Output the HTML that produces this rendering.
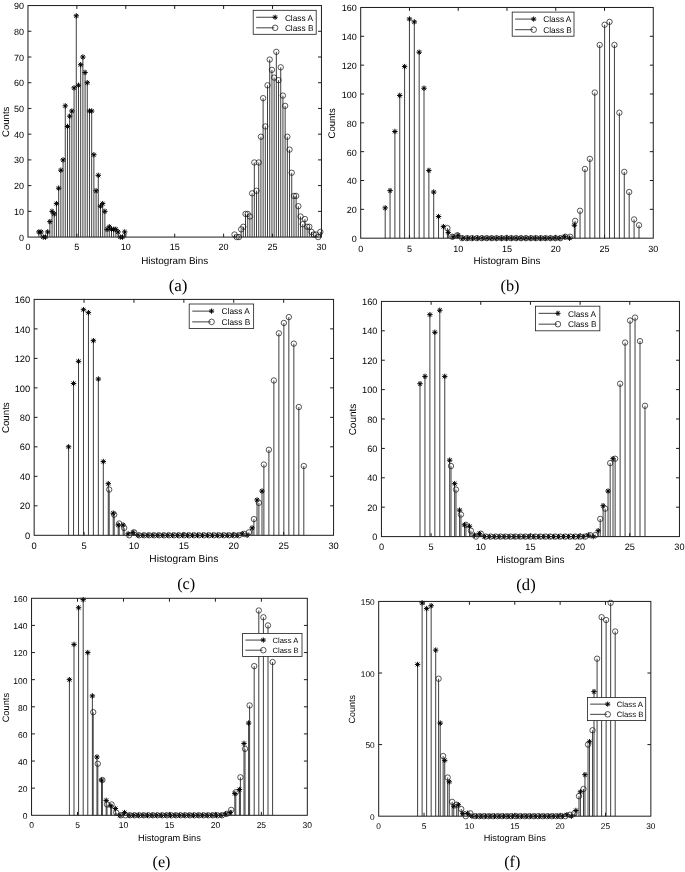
<!DOCTYPE html>
<html><head><meta charset="utf-8"><title>Histogram stem plots</title>
<style>html,body{margin:0;padding:0;background:#fff}svg{display:block}</style>
</head><body>
<svg width="685" height="872" viewBox="0 0 685 872" font-family="'Liberation Sans', Arial, sans-serif" fill="#000" text-rendering="geometricPrecision">
<style>text{stroke:none}</style>
<rect x="0" y="0" width="685" height="872" fill="#fff"/>
<g id="plot-a">
<path d="M38.85 237.07V231.93M41.05 237.07V231.93M47.66 237.07V231.93M49.86 237.07V221.64M52.06 237.07V211.35M54.26 237.07V213.92M56.46 237.07V203.63M58.66 237.07V188.19M60.86 237.07V170.19M63.07 237.07V159.90M65.27 237.07V105.88M67.47 237.07V126.45M69.67 237.07V116.17M71.87 237.07V111.02M74.07 237.07V87.87M76.27 237.07V15.84M78.47 237.07V85.30M80.67 237.07V64.72M82.88 237.07V57.00M85.08 237.07V72.43M87.28 237.07V82.72M89.48 237.07V111.02M91.68 237.07V111.02M93.88 237.07V154.75M96.08 237.07V190.77M98.28 237.07V175.33M100.48 237.07V206.20M102.69 237.07V203.63M104.89 237.07V211.35M107.09 237.07V229.35M109.29 237.07V226.78M111.49 237.07V229.35M113.69 237.07V229.35M115.89 237.07V229.35M118.09 237.07V231.93M124.70 237.07V231.93" stroke="#2e2e2e" stroke-width="0.92" fill="none"/>
<path d="M234.51 237.07V234.50M241.11 237.07V229.35M243.31 237.07V226.78M245.51 237.07V213.92M247.71 237.07V213.92M249.91 237.07V216.49M252.12 237.07V193.34M254.32 237.07V162.47M256.52 237.07V190.77M258.72 237.07V162.47M260.92 237.07V136.74M263.12 237.07V98.16M265.32 237.07V126.45M267.52 237.07V85.30M269.72 237.07V59.57M271.93 237.07V69.86M274.13 237.07V77.58M276.33 237.07V51.85M278.53 237.07V80.15M280.73 237.07V67.29M282.93 237.07V95.59M285.13 237.07V105.88M287.33 237.07V136.74M289.53 237.07V149.61M291.74 237.07V172.76M293.94 237.07V195.91M296.14 237.07V195.91M298.34 237.07V206.20M300.54 237.07V216.49M302.74 237.07V224.21M304.94 237.07V219.06M307.14 237.07V226.78M309.34 237.07V226.78M311.55 237.07V231.93M313.75 237.07V234.50M315.95 237.07V234.50M320.35 237.07V231.93" stroke="#2e2e2e" stroke-width="0.92" fill="none"/>
<path d="M36.15 231.93H41.55M38.85 229.23V234.63M36.94 230.02L40.76 233.83M36.94 233.83L40.76 230.02" stroke="#000" stroke-width="1.0" fill="none"/>
<path d="M38.35 231.93H43.75M41.05 229.23V234.63M39.15 230.02L42.96 233.83M39.15 233.83L42.96 230.02" stroke="#000" stroke-width="1.0" fill="none"/>
<path d="M40.56 237.07H45.96M43.26 234.37V239.77M41.35 235.16L45.16 238.98M41.35 238.98L45.16 235.16" stroke="#000" stroke-width="1.0" fill="none"/>
<path d="M42.76 237.07H48.16M45.46 234.37V239.77M43.55 235.16L47.37 238.98M43.55 238.98L47.37 235.16" stroke="#000" stroke-width="1.0" fill="none"/>
<path d="M44.96 231.93H50.36M47.66 229.23V234.63M45.75 230.02L49.57 233.83M45.75 233.83L49.57 230.02" stroke="#000" stroke-width="1.0" fill="none"/>
<path d="M47.16 221.64H52.56M49.86 218.94V224.34M47.95 219.73L51.77 223.54M47.95 223.54L51.77 219.73" stroke="#000" stroke-width="1.0" fill="none"/>
<path d="M49.36 211.35H54.76M52.06 208.65V214.05M50.15 209.44L53.97 213.25M50.15 213.25L53.97 209.44" stroke="#000" stroke-width="1.0" fill="none"/>
<path d="M51.56 213.92H56.96M54.26 211.22V216.62M52.35 212.01L56.17 215.83M52.35 215.83L56.17 212.01" stroke="#000" stroke-width="1.0" fill="none"/>
<path d="M53.76 203.63H59.16M56.46 200.93V206.33M54.55 201.72L58.37 205.54M54.55 205.54L58.37 201.72" stroke="#000" stroke-width="1.0" fill="none"/>
<path d="M55.96 188.19H61.36M58.66 185.49V190.89M56.75 186.28L60.57 190.10M56.75 190.10L60.57 186.28" stroke="#000" stroke-width="1.0" fill="none"/>
<path d="M58.16 170.19H63.56M60.86 167.49V172.89M58.96 168.28L62.77 172.10M58.96 172.10L62.77 168.28" stroke="#000" stroke-width="1.0" fill="none"/>
<path d="M60.37 159.90H65.77M63.07 157.20V162.60M61.16 157.99L64.97 161.81M61.16 161.81L64.97 157.99" stroke="#000" stroke-width="1.0" fill="none"/>
<path d="M62.57 105.88H67.97M65.27 103.18V108.58M63.36 103.97L67.18 107.78M63.36 107.78L67.18 103.97" stroke="#000" stroke-width="1.0" fill="none"/>
<path d="M64.77 126.45H70.17M67.47 123.75V129.15M65.56 124.55L69.38 128.36M65.56 128.36L69.38 124.55" stroke="#000" stroke-width="1.0" fill="none"/>
<path d="M66.97 116.17H72.37M69.67 113.47V118.87M67.76 114.26L71.58 118.07M67.76 118.07L71.58 114.26" stroke="#000" stroke-width="1.0" fill="none"/>
<path d="M69.17 111.02H74.57M71.87 108.32V113.72M69.96 109.11L73.78 112.93M69.96 112.93L73.78 109.11" stroke="#000" stroke-width="1.0" fill="none"/>
<path d="M71.37 87.87H76.77M74.07 85.17V90.57M72.16 85.96L75.98 89.78M72.16 89.78L75.98 85.96" stroke="#000" stroke-width="1.0" fill="none"/>
<path d="M73.57 15.84H78.97M76.27 13.14V18.54M74.36 13.93L78.18 17.75M74.36 17.75L78.18 13.93" stroke="#000" stroke-width="1.0" fill="none"/>
<path d="M75.77 85.30H81.17M78.47 82.60V88.00M76.56 83.39L80.38 87.20M76.56 87.20L80.38 83.39" stroke="#000" stroke-width="1.0" fill="none"/>
<path d="M77.97 64.72H83.37M80.67 62.02V67.42M78.76 62.81L82.58 66.63M78.76 66.63L82.58 62.81" stroke="#000" stroke-width="1.0" fill="none"/>
<path d="M80.18 57.00H85.58M82.88 54.30V59.70M80.97 55.09L84.78 58.91M80.97 58.91L84.78 55.09" stroke="#000" stroke-width="1.0" fill="none"/>
<path d="M82.38 72.43H87.78M85.08 69.73V75.13M83.17 70.52L86.99 74.34M83.17 74.34L86.99 70.52" stroke="#000" stroke-width="1.0" fill="none"/>
<path d="M84.58 82.72H89.98M87.28 80.02V85.42M85.37 80.81L89.19 84.63M85.37 84.63L89.19 80.81" stroke="#000" stroke-width="1.0" fill="none"/>
<path d="M86.78 111.02H92.18M89.48 108.32V113.72M87.57 109.11L91.39 112.93M87.57 112.93L91.39 109.11" stroke="#000" stroke-width="1.0" fill="none"/>
<path d="M88.98 111.02H94.38M91.68 108.32V113.72M89.77 109.11L93.59 112.93M89.77 112.93L93.59 109.11" stroke="#000" stroke-width="1.0" fill="none"/>
<path d="M91.18 154.75H96.58M93.88 152.05V157.45M91.97 152.84L95.79 156.66M91.97 156.66L95.79 152.84" stroke="#000" stroke-width="1.0" fill="none"/>
<path d="M93.38 190.77H98.78M96.08 188.07V193.47M94.17 188.86L97.99 192.68M94.17 192.68L97.99 188.86" stroke="#000" stroke-width="1.0" fill="none"/>
<path d="M95.58 175.33H100.98M98.28 172.63V178.03M96.37 173.42L100.19 177.24M96.37 177.24L100.19 173.42" stroke="#000" stroke-width="1.0" fill="none"/>
<path d="M97.78 206.20H103.18M100.48 203.50V208.90M98.57 204.29L102.39 208.11M98.57 208.11L102.39 204.29" stroke="#000" stroke-width="1.0" fill="none"/>
<path d="M99.99 203.63H105.39M102.69 200.93V206.33M100.78 201.72L104.59 205.54M100.78 205.54L104.59 201.72" stroke="#000" stroke-width="1.0" fill="none"/>
<path d="M102.19 211.35H107.59M104.89 208.65V214.05M102.98 209.44L106.80 213.25M102.98 213.25L106.80 209.44" stroke="#000" stroke-width="1.0" fill="none"/>
<path d="M104.39 229.35H109.79M107.09 226.65V232.05M105.18 227.44L109.00 231.26M105.18 231.26L109.00 227.44" stroke="#000" stroke-width="1.0" fill="none"/>
<path d="M106.59 226.78H111.99M109.29 224.08V229.48M107.38 224.87L111.20 228.69M107.38 228.69L111.20 224.87" stroke="#000" stroke-width="1.0" fill="none"/>
<path d="M108.79 229.35H114.19M111.49 226.65V232.05M109.58 227.44L113.40 231.26M109.58 231.26L113.40 227.44" stroke="#000" stroke-width="1.0" fill="none"/>
<path d="M110.99 229.35H116.39M113.69 226.65V232.05M111.78 227.44L115.60 231.26M111.78 231.26L115.60 227.44" stroke="#000" stroke-width="1.0" fill="none"/>
<path d="M113.19 229.35H118.59M115.89 226.65V232.05M113.98 227.44L117.80 231.26M113.98 231.26L117.80 227.44" stroke="#000" stroke-width="1.0" fill="none"/>
<path d="M115.39 231.93H120.79M118.09 229.23V234.63M116.18 230.02L120.00 233.83M116.18 233.83L120.00 230.02" stroke="#000" stroke-width="1.0" fill="none"/>
<path d="M117.59 237.07H122.99M120.29 234.37V239.77M118.38 235.16L122.20 238.98M118.38 238.98L122.20 235.16" stroke="#000" stroke-width="1.0" fill="none"/>
<path d="M119.80 237.07H125.20M122.50 234.37V239.77M120.59 235.16L124.40 238.98M120.59 238.98L124.40 235.16" stroke="#000" stroke-width="1.0" fill="none"/>
<path d="M122.00 231.93H127.40M124.70 229.23V234.63M122.79 230.02L126.61 233.83M122.79 233.83L126.61 230.02" stroke="#000" stroke-width="1.0" fill="none"/>
<circle cx="234.51" cy="234.50" r="2.7" stroke="#111" stroke-width="0.7" fill="none"/>
<circle cx="236.71" cy="237.07" r="2.7" stroke="#111" stroke-width="0.7" fill="none"/>
<circle cx="238.91" cy="237.07" r="2.7" stroke="#111" stroke-width="0.7" fill="none"/>
<circle cx="241.11" cy="229.35" r="2.7" stroke="#111" stroke-width="0.7" fill="none"/>
<circle cx="243.31" cy="226.78" r="2.7" stroke="#111" stroke-width="0.7" fill="none"/>
<circle cx="245.51" cy="213.92" r="2.7" stroke="#111" stroke-width="0.7" fill="none"/>
<circle cx="247.71" cy="213.92" r="2.7" stroke="#111" stroke-width="0.7" fill="none"/>
<circle cx="249.91" cy="216.49" r="2.7" stroke="#111" stroke-width="0.7" fill="none"/>
<circle cx="252.12" cy="193.34" r="2.7" stroke="#111" stroke-width="0.7" fill="none"/>
<circle cx="254.32" cy="162.47" r="2.7" stroke="#111" stroke-width="0.7" fill="none"/>
<circle cx="256.52" cy="190.77" r="2.7" stroke="#111" stroke-width="0.7" fill="none"/>
<circle cx="258.72" cy="162.47" r="2.7" stroke="#111" stroke-width="0.7" fill="none"/>
<circle cx="260.92" cy="136.74" r="2.7" stroke="#111" stroke-width="0.7" fill="none"/>
<circle cx="263.12" cy="98.16" r="2.7" stroke="#111" stroke-width="0.7" fill="none"/>
<circle cx="265.32" cy="126.45" r="2.7" stroke="#111" stroke-width="0.7" fill="none"/>
<circle cx="267.52" cy="85.30" r="2.7" stroke="#111" stroke-width="0.7" fill="none"/>
<circle cx="269.72" cy="59.57" r="2.7" stroke="#111" stroke-width="0.7" fill="none"/>
<circle cx="271.93" cy="69.86" r="2.7" stroke="#111" stroke-width="0.7" fill="none"/>
<circle cx="274.13" cy="77.58" r="2.7" stroke="#111" stroke-width="0.7" fill="none"/>
<circle cx="276.33" cy="51.85" r="2.7" stroke="#111" stroke-width="0.7" fill="none"/>
<circle cx="278.53" cy="80.15" r="2.7" stroke="#111" stroke-width="0.7" fill="none"/>
<circle cx="280.73" cy="67.29" r="2.7" stroke="#111" stroke-width="0.7" fill="none"/>
<circle cx="282.93" cy="95.59" r="2.7" stroke="#111" stroke-width="0.7" fill="none"/>
<circle cx="285.13" cy="105.88" r="2.7" stroke="#111" stroke-width="0.7" fill="none"/>
<circle cx="287.33" cy="136.74" r="2.7" stroke="#111" stroke-width="0.7" fill="none"/>
<circle cx="289.53" cy="149.61" r="2.7" stroke="#111" stroke-width="0.7" fill="none"/>
<circle cx="291.74" cy="172.76" r="2.7" stroke="#111" stroke-width="0.7" fill="none"/>
<circle cx="293.94" cy="195.91" r="2.7" stroke="#111" stroke-width="0.7" fill="none"/>
<circle cx="296.14" cy="195.91" r="2.7" stroke="#111" stroke-width="0.7" fill="none"/>
<circle cx="298.34" cy="206.20" r="2.7" stroke="#111" stroke-width="0.7" fill="none"/>
<circle cx="300.54" cy="216.49" r="2.7" stroke="#111" stroke-width="0.7" fill="none"/>
<circle cx="302.74" cy="224.21" r="2.7" stroke="#111" stroke-width="0.7" fill="none"/>
<circle cx="304.94" cy="219.06" r="2.7" stroke="#111" stroke-width="0.7" fill="none"/>
<circle cx="307.14" cy="226.78" r="2.7" stroke="#111" stroke-width="0.7" fill="none"/>
<circle cx="309.34" cy="226.78" r="2.7" stroke="#111" stroke-width="0.7" fill="none"/>
<circle cx="311.55" cy="231.93" r="2.7" stroke="#111" stroke-width="0.7" fill="none"/>
<circle cx="313.75" cy="234.50" r="2.7" stroke="#111" stroke-width="0.7" fill="none"/>
<circle cx="315.95" cy="234.50" r="2.7" stroke="#111" stroke-width="0.7" fill="none"/>
<circle cx="318.15" cy="237.07" r="2.7" stroke="#111" stroke-width="0.7" fill="none"/>
<circle cx="320.35" cy="231.93" r="2.7" stroke="#111" stroke-width="0.7" fill="none"/>
<rect x="27.97" y="5.55" width="293.48" height="231.52" fill="none" stroke="#1c1c1c" stroke-width="1"/>
<path d="M76.88 237.07v-3.4M76.88 5.55v3.4M125.80 237.07v-3.4M125.80 5.55v3.4M174.71 237.07v-3.4M174.71 5.55v3.4M223.62 237.07v-3.4M223.62 5.55v3.4M272.54 237.07v-3.4M272.54 5.55v3.4M27.97 211.35h3.4M321.45 211.35h-3.4M27.97 185.62h3.4M321.45 185.62h-3.4M27.97 159.90h3.4M321.45 159.90h-3.4M27.97 134.17h3.4M321.45 134.17h-3.4M27.97 108.45h3.4M321.45 108.45h-3.4M27.97 82.72h3.4M321.45 82.72h-3.4M27.97 57.00h3.4M321.45 57.00h-3.4M27.97 31.27h3.4M321.45 31.27h-3.4" stroke="#1c1c1c" stroke-width="1" fill="none"/>
<g font-size="9.0" text-anchor="middle">
<text x="27.97" y="249.97">0</text>
<text x="76.88" y="249.97">5</text>
<text x="125.80" y="249.97">10</text>
<text x="174.71" y="249.97">15</text>
<text x="223.62" y="249.97">20</text>
<text x="272.54" y="249.97">25</text>
<text x="321.45" y="249.97">30</text>
</g>
<g font-size="9.0" text-anchor="end">
<text x="23.97" y="240.61">0</text>
<text x="23.97" y="214.89">10</text>
<text x="23.97" y="189.16">20</text>
<text x="23.97" y="163.44">30</text>
<text x="23.97" y="137.71">40</text>
<text x="23.97" y="111.99">50</text>
<text x="23.97" y="86.26">60</text>
<text x="23.97" y="60.54">70</text>
<text x="23.97" y="34.81">80</text>
<text x="23.97" y="9.09">90</text>
</g>
<text x="174.71" y="263.7" font-size="9.9" text-anchor="middle">Histogram Bins</text>
<text transform="translate(8.80 121.81) rotate(-90)" font-size="9.57" text-anchor="middle">Counts</text>
<text x="178.1" y="290.5" class="cap" font-size="17" text-anchor="middle" font-family="'Liberation Serif', 'Times New Roman', serif">(a)</text>
<rect x="253.20" y="10.30" width="63.00" height="24.00" fill="#fff" stroke="#1c1c1c" stroke-width="0.8"/>
<path d="M256.16 17.26H274.31M256.16 27.82H274.31" stroke="#2e2e2e" stroke-width="0.92"/>
<path d="M272.50 17.26H277.71M275.11 14.66V19.86M273.27 15.42L276.94 19.10M273.27 19.10L276.94 15.42" stroke="#000" stroke-width="1.0" fill="none"/>
<circle cx="275.11" cy="27.82" r="2.8" stroke="#111" stroke-width="0.7" fill="none"/>
<text x="284.89" y="20.55" font-size="8.3">Class A</text>
<text x="284.89" y="31.11" font-size="8.3">Class B</text>
</g>
<g id="plot-b">
<path d="M385.20 238.18V207.90M390.05 238.18V190.60M394.90 238.18V131.48M399.75 238.18V95.43M404.60 238.18V66.59M409.45 238.18V19.01M414.31 238.18V21.89M419.16 238.18V52.17M424.01 238.18V88.22M428.86 238.18V170.41M433.71 238.18V192.04M438.56 238.18V216.55M443.41 238.18V226.64M448.26 238.18V232.41M453.11 238.18V236.74M457.96 238.18V235.30M564.69 238.18V236.74M574.39 238.18V225.20" stroke="#2e2e2e" stroke-width="0.92" fill="none"/>
<path d="M447.40 238.18V228.09M452.31 238.18V236.74M457.23 238.18V235.30M565.31 238.18V236.74M570.23 238.18V236.74M575.14 238.18V220.88M580.05 238.18V210.78M584.96 238.18V168.97M589.88 238.18V158.87M594.79 238.18V92.54M599.70 238.18V44.96M604.62 238.18V24.77M609.53 238.18V21.89M614.44 238.18V44.96M619.36 238.18V112.73M624.27 238.18V171.85M629.18 238.18V192.04M634.09 238.18V219.43M639.01 238.18V225.20" stroke="#2e2e2e" stroke-width="0.92" fill="none"/>
<path d="M382.50 207.90H387.90M385.20 205.20V210.60M383.29 205.99L387.11 209.81M383.29 209.81L387.11 205.99" stroke="#000" stroke-width="1.0" fill="none"/>
<path d="M387.35 190.60H392.75M390.05 187.90V193.30M388.14 188.69L391.96 192.51M388.14 192.51L391.96 188.69" stroke="#000" stroke-width="1.0" fill="none"/>
<path d="M392.20 131.48H397.60M394.90 128.78V134.18M392.99 129.57L396.81 133.39M392.99 133.39L396.81 129.57" stroke="#000" stroke-width="1.0" fill="none"/>
<path d="M397.05 95.43H402.45M399.75 92.73V98.13M397.84 93.52L401.66 97.34M397.84 97.34L401.66 93.52" stroke="#000" stroke-width="1.0" fill="none"/>
<path d="M401.90 66.59H407.30M404.60 63.89V69.29M402.69 64.68L406.51 68.50M402.69 68.50L406.51 64.68" stroke="#000" stroke-width="1.0" fill="none"/>
<path d="M406.75 19.01H412.15M409.45 16.31V21.71M407.55 17.10L411.36 20.91M407.55 20.91L411.36 17.10" stroke="#000" stroke-width="1.0" fill="none"/>
<path d="M411.61 21.89H417.01M414.31 19.19V24.59M412.40 19.98L416.22 23.80M412.40 23.80L416.22 19.98" stroke="#000" stroke-width="1.0" fill="none"/>
<path d="M416.46 52.17H421.86M419.16 49.47V54.87M417.25 50.26L421.07 54.08M417.25 54.08L421.07 50.26" stroke="#000" stroke-width="1.0" fill="none"/>
<path d="M421.31 88.22H426.71M424.01 85.52V90.92M422.10 86.31L425.92 90.13M422.10 90.13L425.92 86.31" stroke="#000" stroke-width="1.0" fill="none"/>
<path d="M426.16 170.41H431.56M428.86 167.71V173.11M426.95 168.50L430.77 172.32M426.95 172.32L430.77 168.50" stroke="#000" stroke-width="1.0" fill="none"/>
<path d="M431.01 192.04H436.41M433.71 189.34V194.74M431.80 190.13L435.62 193.95M431.80 193.95L435.62 190.13" stroke="#000" stroke-width="1.0" fill="none"/>
<path d="M435.86 216.55H441.26M438.56 213.85V219.25M436.65 214.64L440.47 218.46M436.65 218.46L440.47 214.64" stroke="#000" stroke-width="1.0" fill="none"/>
<path d="M440.71 226.64H446.11M443.41 223.94V229.34M441.50 224.74L445.32 228.55M441.50 228.55L445.32 224.74" stroke="#000" stroke-width="1.0" fill="none"/>
<path d="M445.56 232.41H450.96M448.26 229.71V235.11M446.35 230.50L450.17 234.32M446.35 234.32L450.17 230.50" stroke="#000" stroke-width="1.0" fill="none"/>
<path d="M450.41 236.74H455.81M453.11 234.04V239.44M451.20 234.83L455.02 238.65M451.20 238.65L455.02 234.83" stroke="#000" stroke-width="1.0" fill="none"/>
<path d="M455.26 235.30H460.66M457.96 232.60V238.00M456.06 233.39L459.87 237.21M456.06 237.21L459.87 233.39" stroke="#000" stroke-width="1.0" fill="none"/>
<path d="M460.12 238.18H465.52M462.82 235.48V240.88M460.91 236.27L464.73 240.09M460.91 240.09L464.73 236.27" stroke="#000" stroke-width="1.0" fill="none"/>
<path d="M464.97 238.18H470.37M467.67 235.48V240.88M465.76 236.27L469.58 240.09M465.76 240.09L469.58 236.27" stroke="#000" stroke-width="1.0" fill="none"/>
<path d="M469.82 238.18H475.22M472.52 235.48V240.88M470.61 236.27L474.43 240.09M470.61 240.09L474.43 236.27" stroke="#000" stroke-width="1.0" fill="none"/>
<path d="M474.67 238.18H480.07M477.37 235.48V240.88M475.46 236.27L479.28 240.09M475.46 240.09L479.28 236.27" stroke="#000" stroke-width="1.0" fill="none"/>
<path d="M479.52 238.18H484.92M482.22 235.48V240.88M480.31 236.27L484.13 240.09M480.31 240.09L484.13 236.27" stroke="#000" stroke-width="1.0" fill="none"/>
<path d="M484.37 238.18H489.77M487.07 235.48V240.88M485.16 236.27L488.98 240.09M485.16 240.09L488.98 236.27" stroke="#000" stroke-width="1.0" fill="none"/>
<path d="M489.22 238.18H494.62M491.92 235.48V240.88M490.01 236.27L493.83 240.09M490.01 240.09L493.83 236.27" stroke="#000" stroke-width="1.0" fill="none"/>
<path d="M494.07 238.18H499.47M496.77 235.48V240.88M494.86 236.27L498.68 240.09M494.86 240.09L498.68 236.27" stroke="#000" stroke-width="1.0" fill="none"/>
<path d="M498.92 238.18H504.32M501.62 235.48V240.88M499.71 236.27L503.53 240.09M499.71 240.09L503.53 236.27" stroke="#000" stroke-width="1.0" fill="none"/>
<path d="M503.78 238.18H509.18M506.48 235.48V240.88M504.57 236.27L508.38 240.09M504.57 240.09L508.38 236.27" stroke="#000" stroke-width="1.0" fill="none"/>
<path d="M508.63 238.18H514.03M511.33 235.48V240.88M509.42 236.27L513.24 240.09M509.42 240.09L513.24 236.27" stroke="#000" stroke-width="1.0" fill="none"/>
<path d="M513.48 238.18H518.88M516.18 235.48V240.88M514.27 236.27L518.09 240.09M514.27 240.09L518.09 236.27" stroke="#000" stroke-width="1.0" fill="none"/>
<path d="M518.33 238.18H523.73M521.03 235.48V240.88M519.12 236.27L522.94 240.09M519.12 240.09L522.94 236.27" stroke="#000" stroke-width="1.0" fill="none"/>
<path d="M523.18 238.18H528.58M525.88 235.48V240.88M523.97 236.27L527.79 240.09M523.97 240.09L527.79 236.27" stroke="#000" stroke-width="1.0" fill="none"/>
<path d="M528.03 238.18H533.43M530.73 235.48V240.88M528.82 236.27L532.64 240.09M528.82 240.09L532.64 236.27" stroke="#000" stroke-width="1.0" fill="none"/>
<path d="M532.88 238.18H538.28M535.58 235.48V240.88M533.67 236.27L537.49 240.09M533.67 240.09L537.49 236.27" stroke="#000" stroke-width="1.0" fill="none"/>
<path d="M537.73 238.18H543.13M540.43 235.48V240.88M538.52 236.27L542.34 240.09M538.52 240.09L542.34 236.27" stroke="#000" stroke-width="1.0" fill="none"/>
<path d="M542.58 238.18H547.98M545.28 235.48V240.88M543.37 236.27L547.19 240.09M543.37 240.09L547.19 236.27" stroke="#000" stroke-width="1.0" fill="none"/>
<path d="M547.43 238.18H552.83M550.13 235.48V240.88M548.22 236.27L552.04 240.09M548.22 240.09L552.04 236.27" stroke="#000" stroke-width="1.0" fill="none"/>
<path d="M552.28 238.18H557.69M554.99 235.48V240.88M553.08 236.27L556.89 240.09M553.08 240.09L556.89 236.27" stroke="#000" stroke-width="1.0" fill="none"/>
<path d="M557.14 238.18H562.54M559.84 235.48V240.88M557.93 236.27L561.75 240.09M557.93 240.09L561.75 236.27" stroke="#000" stroke-width="1.0" fill="none"/>
<path d="M561.99 236.74H567.39M564.69 234.04V239.44M562.78 234.83L566.60 238.65M562.78 238.65L566.60 234.83" stroke="#000" stroke-width="1.0" fill="none"/>
<path d="M566.84 238.18H572.24M569.54 235.48V240.88M567.63 236.27L571.45 240.09M567.63 240.09L571.45 236.27" stroke="#000" stroke-width="1.0" fill="none"/>
<path d="M571.69 225.20H577.09M574.39 222.50V227.90M572.48 223.29L576.30 227.11M572.48 227.11L576.30 223.29" stroke="#000" stroke-width="1.0" fill="none"/>
<circle cx="447.40" cy="228.09" r="2.7" stroke="#111" stroke-width="0.7" fill="none"/>
<circle cx="452.31" cy="236.74" r="2.7" stroke="#111" stroke-width="0.7" fill="none"/>
<circle cx="457.23" cy="235.30" r="2.7" stroke="#111" stroke-width="0.7" fill="none"/>
<circle cx="462.14" cy="238.18" r="2.7" stroke="#111" stroke-width="0.7" fill="none"/>
<circle cx="467.05" cy="238.18" r="2.7" stroke="#111" stroke-width="0.7" fill="none"/>
<circle cx="471.96" cy="238.18" r="2.7" stroke="#111" stroke-width="0.7" fill="none"/>
<circle cx="476.88" cy="238.18" r="2.7" stroke="#111" stroke-width="0.7" fill="none"/>
<circle cx="481.79" cy="238.18" r="2.7" stroke="#111" stroke-width="0.7" fill="none"/>
<circle cx="486.70" cy="238.18" r="2.7" stroke="#111" stroke-width="0.7" fill="none"/>
<circle cx="491.62" cy="238.18" r="2.7" stroke="#111" stroke-width="0.7" fill="none"/>
<circle cx="496.53" cy="238.18" r="2.7" stroke="#111" stroke-width="0.7" fill="none"/>
<circle cx="501.44" cy="238.18" r="2.7" stroke="#111" stroke-width="0.7" fill="none"/>
<circle cx="506.36" cy="238.18" r="2.7" stroke="#111" stroke-width="0.7" fill="none"/>
<circle cx="511.27" cy="238.18" r="2.7" stroke="#111" stroke-width="0.7" fill="none"/>
<circle cx="516.18" cy="238.18" r="2.7" stroke="#111" stroke-width="0.7" fill="none"/>
<circle cx="521.10" cy="238.18" r="2.7" stroke="#111" stroke-width="0.7" fill="none"/>
<circle cx="526.01" cy="238.18" r="2.7" stroke="#111" stroke-width="0.7" fill="none"/>
<circle cx="530.92" cy="238.18" r="2.7" stroke="#111" stroke-width="0.7" fill="none"/>
<circle cx="535.83" cy="238.18" r="2.7" stroke="#111" stroke-width="0.7" fill="none"/>
<circle cx="540.75" cy="238.18" r="2.7" stroke="#111" stroke-width="0.7" fill="none"/>
<circle cx="545.66" cy="238.18" r="2.7" stroke="#111" stroke-width="0.7" fill="none"/>
<circle cx="550.57" cy="238.18" r="2.7" stroke="#111" stroke-width="0.7" fill="none"/>
<circle cx="555.49" cy="238.18" r="2.7" stroke="#111" stroke-width="0.7" fill="none"/>
<circle cx="560.40" cy="238.18" r="2.7" stroke="#111" stroke-width="0.7" fill="none"/>
<circle cx="565.31" cy="236.74" r="2.7" stroke="#111" stroke-width="0.7" fill="none"/>
<circle cx="570.23" cy="236.74" r="2.7" stroke="#111" stroke-width="0.7" fill="none"/>
<circle cx="575.14" cy="220.88" r="2.7" stroke="#111" stroke-width="0.7" fill="none"/>
<circle cx="580.05" cy="210.78" r="2.7" stroke="#111" stroke-width="0.7" fill="none"/>
<circle cx="584.96" cy="168.97" r="2.7" stroke="#111" stroke-width="0.7" fill="none"/>
<circle cx="589.88" cy="158.87" r="2.7" stroke="#111" stroke-width="0.7" fill="none"/>
<circle cx="594.79" cy="92.54" r="2.7" stroke="#111" stroke-width="0.7" fill="none"/>
<circle cx="599.70" cy="44.96" r="2.7" stroke="#111" stroke-width="0.7" fill="none"/>
<circle cx="604.62" cy="24.77" r="2.7" stroke="#111" stroke-width="0.7" fill="none"/>
<circle cx="609.53" cy="21.89" r="2.7" stroke="#111" stroke-width="0.7" fill="none"/>
<circle cx="614.44" cy="44.96" r="2.7" stroke="#111" stroke-width="0.7" fill="none"/>
<circle cx="619.36" cy="112.73" r="2.7" stroke="#111" stroke-width="0.7" fill="none"/>
<circle cx="624.27" cy="171.85" r="2.7" stroke="#111" stroke-width="0.7" fill="none"/>
<circle cx="629.18" cy="192.04" r="2.7" stroke="#111" stroke-width="0.7" fill="none"/>
<circle cx="634.09" cy="219.43" r="2.7" stroke="#111" stroke-width="0.7" fill="none"/>
<circle cx="639.01" cy="225.20" r="2.7" stroke="#111" stroke-width="0.7" fill="none"/>
<rect x="360.70" y="7.47" width="292.56" height="230.71" fill="none" stroke="#1c1c1c" stroke-width="1"/>
<path d="M409.46 238.18v-3.4M409.46 7.47v3.4M458.22 238.18v-3.4M458.22 7.47v3.4M506.98 238.18v-3.4M506.98 7.47v3.4M555.74 238.18v-3.4M555.74 7.47v3.4M604.50 238.18v-3.4M604.50 7.47v3.4M360.70 209.34h3.4M653.26 209.34h-3.4M360.70 180.50h3.4M653.26 180.50h-3.4M360.70 151.66h3.4M653.26 151.66h-3.4M360.70 122.83h3.4M653.26 122.83h-3.4M360.70 93.99h3.4M653.26 93.99h-3.4M360.70 65.15h3.4M653.26 65.15h-3.4M360.70 36.31h3.4M653.26 36.31h-3.4" stroke="#1c1c1c" stroke-width="1" fill="none"/>
<g font-size="9.0" text-anchor="middle">
<text x="360.70" y="251.58">0</text>
<text x="409.46" y="251.58">5</text>
<text x="458.22" y="251.58">10</text>
<text x="506.98" y="251.58">15</text>
<text x="555.74" y="251.58">20</text>
<text x="604.50" y="251.58">25</text>
<text x="653.26" y="251.58">30</text>
</g>
<g font-size="9.0" text-anchor="end">
<text x="356.70" y="242.12">0</text>
<text x="356.70" y="213.28">20</text>
<text x="356.70" y="184.44">40</text>
<text x="356.70" y="155.60">60</text>
<text x="356.70" y="126.77">80</text>
<text x="356.70" y="97.93">100</text>
<text x="356.70" y="69.09">120</text>
<text x="356.70" y="40.25">140</text>
<text x="356.70" y="11.41">160</text>
</g>
<text x="506.98" y="264.2" font-size="9.9" text-anchor="middle">Histogram Bins</text>
<text transform="translate(335.20 123.33) rotate(-90)" font-size="9.57" text-anchor="middle">Counts</text>
<text x="510" y="290.5" class="cap" font-size="16.3" text-anchor="middle" font-family="'Liberation Serif', 'Times New Roman', serif">(b)</text>
<rect x="512.20" y="12.10" width="61.80" height="24.10" fill="#fff" stroke="#1c1c1c" stroke-width="0.8"/>
<path d="M515.10 19.09H532.90M515.10 29.69H532.90" stroke="#2e2e2e" stroke-width="0.92"/>
<path d="M531.10 19.09H536.30M533.70 16.49V21.69M531.86 17.25L535.54 20.93M531.86 20.93L535.54 17.25" stroke="#000" stroke-width="1.0" fill="none"/>
<circle cx="533.70" cy="29.69" r="2.8" stroke="#111" stroke-width="0.7" fill="none"/>
<text x="543.29" y="22.38" font-size="8.3">Class A</text>
<text x="543.29" y="32.98" font-size="8.3">Class B</text>
</g>
<g id="plot-c">
<path d="M68.60 535.30V446.84M73.56 535.30V383.44M78.52 535.30V361.32M83.48 535.30V309.72M88.44 535.30V312.67M93.39 535.30V340.68M98.35 535.30V379.02M103.31 535.30V461.58M108.27 535.30V483.70M113.23 535.30V513.18M118.19 535.30V524.98M123.15 535.30V524.98M128.11 535.30V533.83M133.07 535.30V532.35M242.16 535.30V533.83M252.08 535.30V527.93M257.04 535.30V499.91M262.00 535.30V491.07" stroke="#2e2e2e" stroke-width="0.92" fill="none"/>
<path d="M109.20 535.30V489.59M114.19 535.30V514.66M119.18 535.30V523.50M124.17 535.30V527.93M134.15 535.30V532.35M243.93 535.30V533.83M248.92 535.30V532.35M253.91 535.30V519.08M258.90 535.30V502.86M263.89 535.30V464.53M268.88 535.30V449.79M273.87 535.30V380.49M278.86 535.30V333.31M283.85 535.30V322.99M288.84 535.30V317.09M293.83 535.30V343.63M298.82 535.30V407.03M303.81 535.30V466.00" stroke="#2e2e2e" stroke-width="0.92" fill="none"/>
<path d="M65.90 446.84H71.30M68.60 444.14V449.54M66.69 444.93L70.51 448.75M66.69 448.75L70.51 444.93" stroke="#000" stroke-width="1.0" fill="none"/>
<path d="M70.86 383.44H76.26M73.56 380.74V386.14M71.65 381.53L75.47 385.35M71.65 385.35L75.47 381.53" stroke="#000" stroke-width="1.0" fill="none"/>
<path d="M75.82 361.32H81.22M78.52 358.62V364.02M76.61 359.41L80.43 363.23M76.61 363.23L80.43 359.41" stroke="#000" stroke-width="1.0" fill="none"/>
<path d="M80.78 309.72H86.18M83.48 307.02V312.42M81.57 307.81L85.39 311.63M81.57 311.63L85.39 307.81" stroke="#000" stroke-width="1.0" fill="none"/>
<path d="M85.74 312.67H91.14M88.44 309.97V315.37M86.53 310.76L90.35 314.58M86.53 314.58L90.35 310.76" stroke="#000" stroke-width="1.0" fill="none"/>
<path d="M90.69 340.68H96.09M93.39 337.98V343.38M91.49 338.77L95.30 342.59M91.49 342.59L95.30 338.77" stroke="#000" stroke-width="1.0" fill="none"/>
<path d="M95.65 379.02H101.05M98.35 376.32V381.72M96.44 377.11L100.26 380.93M96.44 380.93L100.26 377.11" stroke="#000" stroke-width="1.0" fill="none"/>
<path d="M100.61 461.58H106.01M103.31 458.88V464.28M101.40 459.67L105.22 463.49M101.40 463.49L105.22 459.67" stroke="#000" stroke-width="1.0" fill="none"/>
<path d="M105.57 483.70H110.97M108.27 481.00V486.40M106.36 481.79L110.18 485.61M106.36 485.61L110.18 481.79" stroke="#000" stroke-width="1.0" fill="none"/>
<path d="M110.53 513.18H115.93M113.23 510.48V515.88M111.32 511.28L115.14 515.09M111.32 515.09L115.14 511.28" stroke="#000" stroke-width="1.0" fill="none"/>
<path d="M115.49 524.98H120.89M118.19 522.28V527.68M116.28 523.07L120.10 526.89M116.28 526.89L120.10 523.07" stroke="#000" stroke-width="1.0" fill="none"/>
<path d="M120.45 524.98H125.85M123.15 522.28V527.68M121.24 523.07L125.06 526.89M121.24 526.89L125.06 523.07" stroke="#000" stroke-width="1.0" fill="none"/>
<path d="M125.41 533.83H130.81M128.11 531.13V536.53M126.20 531.92L130.02 535.73M126.20 535.73L130.02 531.92" stroke="#000" stroke-width="1.0" fill="none"/>
<path d="M130.37 532.35H135.77M133.07 529.65V535.05M131.16 530.44L134.98 534.26M131.16 534.26L134.98 530.44" stroke="#000" stroke-width="1.0" fill="none"/>
<path d="M135.33 535.30H140.73M138.03 532.60V538.00M136.12 533.39L139.94 537.21M136.12 537.21L139.94 533.39" stroke="#000" stroke-width="1.0" fill="none"/>
<path d="M140.28 535.30H145.68M142.98 532.60V538.00M141.08 533.39L144.89 537.21M141.08 537.21L144.89 533.39" stroke="#000" stroke-width="1.0" fill="none"/>
<path d="M145.24 535.30H150.64M147.94 532.60V538.00M146.03 533.39L149.85 537.21M146.03 537.21L149.85 533.39" stroke="#000" stroke-width="1.0" fill="none"/>
<path d="M150.20 535.30H155.60M152.90 532.60V538.00M150.99 533.39L154.81 537.21M150.99 537.21L154.81 533.39" stroke="#000" stroke-width="1.0" fill="none"/>
<path d="M155.16 535.30H160.56M157.86 532.60V538.00M155.95 533.39L159.77 537.21M155.95 537.21L159.77 533.39" stroke="#000" stroke-width="1.0" fill="none"/>
<path d="M160.12 535.30H165.52M162.82 532.60V538.00M160.91 533.39L164.73 537.21M160.91 537.21L164.73 533.39" stroke="#000" stroke-width="1.0" fill="none"/>
<path d="M165.08 535.30H170.48M167.78 532.60V538.00M165.87 533.39L169.69 537.21M165.87 537.21L169.69 533.39" stroke="#000" stroke-width="1.0" fill="none"/>
<path d="M170.04 535.30H175.44M172.74 532.60V538.00M170.83 533.39L174.65 537.21M170.83 537.21L174.65 533.39" stroke="#000" stroke-width="1.0" fill="none"/>
<path d="M175.00 535.30H180.40M177.70 532.60V538.00M175.79 533.39L179.61 537.21M175.79 537.21L179.61 533.39" stroke="#000" stroke-width="1.0" fill="none"/>
<path d="M179.96 535.30H185.36M182.66 532.60V538.00M180.75 533.39L184.57 537.21M180.75 537.21L184.57 533.39" stroke="#000" stroke-width="1.0" fill="none"/>
<path d="M184.92 535.30H190.32M187.62 532.60V538.00M185.71 533.39L189.53 537.21M185.71 537.21L189.53 533.39" stroke="#000" stroke-width="1.0" fill="none"/>
<path d="M189.88 535.30H195.27M192.57 532.60V538.00M190.67 533.39L194.48 537.21M190.67 537.21L194.48 533.39" stroke="#000" stroke-width="1.0" fill="none"/>
<path d="M194.83 535.30H200.23M197.53 532.60V538.00M195.62 533.39L199.44 537.21M195.62 537.21L199.44 533.39" stroke="#000" stroke-width="1.0" fill="none"/>
<path d="M199.79 535.30H205.19M202.49 532.60V538.00M200.58 533.39L204.40 537.21M200.58 537.21L204.40 533.39" stroke="#000" stroke-width="1.0" fill="none"/>
<path d="M204.75 535.30H210.15M207.45 532.60V538.00M205.54 533.39L209.36 537.21M205.54 537.21L209.36 533.39" stroke="#000" stroke-width="1.0" fill="none"/>
<path d="M209.71 535.30H215.11M212.41 532.60V538.00M210.50 533.39L214.32 537.21M210.50 537.21L214.32 533.39" stroke="#000" stroke-width="1.0" fill="none"/>
<path d="M214.67 535.30H220.07M217.37 532.60V538.00M215.46 533.39L219.28 537.21M215.46 537.21L219.28 533.39" stroke="#000" stroke-width="1.0" fill="none"/>
<path d="M219.63 535.30H225.03M222.33 532.60V538.00M220.42 533.39L224.24 537.21M220.42 537.21L224.24 533.39" stroke="#000" stroke-width="1.0" fill="none"/>
<path d="M224.59 535.30H229.99M227.29 532.60V538.00M225.38 533.39L229.20 537.21M225.38 537.21L229.20 533.39" stroke="#000" stroke-width="1.0" fill="none"/>
<path d="M229.55 535.30H234.95M232.25 532.60V538.00M230.34 533.39L234.16 537.21M230.34 537.21L234.16 533.39" stroke="#000" stroke-width="1.0" fill="none"/>
<path d="M234.51 535.30H239.91M237.21 532.60V538.00M235.30 533.39L239.12 537.21M235.30 537.21L239.12 533.39" stroke="#000" stroke-width="1.0" fill="none"/>
<path d="M239.47 533.83H244.86M242.16 531.13V536.53M240.26 531.92L244.07 535.73M240.26 535.73L244.07 531.92" stroke="#000" stroke-width="1.0" fill="none"/>
<path d="M244.42 535.30H249.82M247.12 532.60V538.00M245.21 533.39L249.03 537.21M245.21 537.21L249.03 533.39" stroke="#000" stroke-width="1.0" fill="none"/>
<path d="M249.38 527.93H254.78M252.08 525.23V530.63M250.17 526.02L253.99 529.84M250.17 529.84L253.99 526.02" stroke="#000" stroke-width="1.0" fill="none"/>
<path d="M254.34 499.91H259.74M257.04 497.21V502.61M255.13 498.01L258.95 501.82M255.13 501.82L258.95 498.01" stroke="#000" stroke-width="1.0" fill="none"/>
<path d="M259.30 491.07H264.70M262.00 488.37V493.77M260.09 489.16L263.91 492.98M260.09 492.98L263.91 489.16" stroke="#000" stroke-width="1.0" fill="none"/>
<circle cx="109.20" cy="489.59" r="2.7" stroke="#111" stroke-width="0.7" fill="none"/>
<circle cx="114.19" cy="514.66" r="2.7" stroke="#111" stroke-width="0.7" fill="none"/>
<circle cx="119.18" cy="523.50" r="2.7" stroke="#111" stroke-width="0.7" fill="none"/>
<circle cx="124.17" cy="527.93" r="2.7" stroke="#111" stroke-width="0.7" fill="none"/>
<circle cx="129.16" cy="535.30" r="2.7" stroke="#111" stroke-width="0.7" fill="none"/>
<circle cx="134.15" cy="532.35" r="2.7" stroke="#111" stroke-width="0.7" fill="none"/>
<circle cx="139.14" cy="535.30" r="2.7" stroke="#111" stroke-width="0.7" fill="none"/>
<circle cx="144.13" cy="535.30" r="2.7" stroke="#111" stroke-width="0.7" fill="none"/>
<circle cx="149.12" cy="535.30" r="2.7" stroke="#111" stroke-width="0.7" fill="none"/>
<circle cx="154.11" cy="535.30" r="2.7" stroke="#111" stroke-width="0.7" fill="none"/>
<circle cx="159.10" cy="535.30" r="2.7" stroke="#111" stroke-width="0.7" fill="none"/>
<circle cx="164.09" cy="535.30" r="2.7" stroke="#111" stroke-width="0.7" fill="none"/>
<circle cx="169.08" cy="535.30" r="2.7" stroke="#111" stroke-width="0.7" fill="none"/>
<circle cx="174.07" cy="535.30" r="2.7" stroke="#111" stroke-width="0.7" fill="none"/>
<circle cx="179.06" cy="535.30" r="2.7" stroke="#111" stroke-width="0.7" fill="none"/>
<circle cx="184.05" cy="535.30" r="2.7" stroke="#111" stroke-width="0.7" fill="none"/>
<circle cx="189.04" cy="535.30" r="2.7" stroke="#111" stroke-width="0.7" fill="none"/>
<circle cx="194.03" cy="535.30" r="2.7" stroke="#111" stroke-width="0.7" fill="none"/>
<circle cx="199.02" cy="535.30" r="2.7" stroke="#111" stroke-width="0.7" fill="none"/>
<circle cx="204.01" cy="535.30" r="2.7" stroke="#111" stroke-width="0.7" fill="none"/>
<circle cx="209.00" cy="535.30" r="2.7" stroke="#111" stroke-width="0.7" fill="none"/>
<circle cx="213.99" cy="535.30" r="2.7" stroke="#111" stroke-width="0.7" fill="none"/>
<circle cx="218.98" cy="535.30" r="2.7" stroke="#111" stroke-width="0.7" fill="none"/>
<circle cx="223.97" cy="535.30" r="2.7" stroke="#111" stroke-width="0.7" fill="none"/>
<circle cx="228.96" cy="535.30" r="2.7" stroke="#111" stroke-width="0.7" fill="none"/>
<circle cx="233.95" cy="535.30" r="2.7" stroke="#111" stroke-width="0.7" fill="none"/>
<circle cx="238.94" cy="535.30" r="2.7" stroke="#111" stroke-width="0.7" fill="none"/>
<circle cx="243.93" cy="533.83" r="2.7" stroke="#111" stroke-width="0.7" fill="none"/>
<circle cx="248.92" cy="532.35" r="2.7" stroke="#111" stroke-width="0.7" fill="none"/>
<circle cx="253.91" cy="519.08" r="2.7" stroke="#111" stroke-width="0.7" fill="none"/>
<circle cx="258.90" cy="502.86" r="2.7" stroke="#111" stroke-width="0.7" fill="none"/>
<circle cx="263.89" cy="464.53" r="2.7" stroke="#111" stroke-width="0.7" fill="none"/>
<circle cx="268.88" cy="449.79" r="2.7" stroke="#111" stroke-width="0.7" fill="none"/>
<circle cx="273.87" cy="380.49" r="2.7" stroke="#111" stroke-width="0.7" fill="none"/>
<circle cx="278.86" cy="333.31" r="2.7" stroke="#111" stroke-width="0.7" fill="none"/>
<circle cx="283.85" cy="322.99" r="2.7" stroke="#111" stroke-width="0.7" fill="none"/>
<circle cx="288.84" cy="317.09" r="2.7" stroke="#111" stroke-width="0.7" fill="none"/>
<circle cx="293.83" cy="343.63" r="2.7" stroke="#111" stroke-width="0.7" fill="none"/>
<circle cx="298.82" cy="407.03" r="2.7" stroke="#111" stroke-width="0.7" fill="none"/>
<circle cx="303.81" cy="466.00" r="2.7" stroke="#111" stroke-width="0.7" fill="none"/>
<rect x="34.15" y="299.40" width="299.41" height="235.90" fill="none" stroke="#1c1c1c" stroke-width="1"/>
<path d="M84.05 535.30v-3.4M84.05 299.40v3.4M133.95 535.30v-3.4M133.95 299.40v3.4M183.86 535.30v-3.4M183.86 299.40v3.4M233.76 535.30v-3.4M233.76 299.40v3.4M283.66 535.30v-3.4M283.66 299.40v3.4M34.15 505.81h3.4M333.56 505.81h-3.4M34.15 476.32h3.4M333.56 476.32h-3.4M34.15 446.84h3.4M333.56 446.84h-3.4M34.15 417.35h3.4M333.56 417.35h-3.4M34.15 387.86h3.4M333.56 387.86h-3.4M34.15 358.38h3.4M333.56 358.38h-3.4M34.15 328.89h3.4M333.56 328.89h-3.4" stroke="#1c1c1c" stroke-width="1" fill="none"/>
<g font-size="9.3" text-anchor="middle">
<text x="34.15" y="548.60">0</text>
<text x="84.05" y="548.60">5</text>
<text x="133.95" y="548.60">10</text>
<text x="183.86" y="548.60">15</text>
<text x="233.76" y="548.60">20</text>
<text x="283.66" y="548.60">25</text>
<text x="333.56" y="548.60">30</text>
</g>
<g font-size="9.3" text-anchor="end">
<text x="30.15" y="538.95">0</text>
<text x="30.15" y="509.46">20</text>
<text x="30.15" y="479.97">40</text>
<text x="30.15" y="450.49">60</text>
<text x="30.15" y="421.00">80</text>
<text x="30.15" y="391.51">100</text>
<text x="30.15" y="362.02">120</text>
<text x="30.15" y="332.54">140</text>
<text x="30.15" y="303.05">160</text>
</g>
<text x="183.85" y="562" font-size="10.2" text-anchor="middle">Histogram Bins</text>
<text transform="translate(9.45 417.70) rotate(-90)" font-size="9.72" text-anchor="middle">Counts</text>
<text x="186.2" y="589.3" class="cap" font-size="16.3" text-anchor="middle" font-family="'Liberation Serif', 'Times New Roman', serif">(c)</text>
<rect x="189.20" y="304.00" width="64.45" height="24.50" fill="#fff" stroke="#1c1c1c" stroke-width="0.8"/>
<path d="M192.23 311.11H210.79M192.23 321.88H210.79" stroke="#2e2e2e" stroke-width="0.92"/>
<path d="M208.99 311.11H214.19M211.59 308.50V313.71M209.75 309.27L213.43 312.94M209.75 312.94L213.43 309.27" stroke="#000" stroke-width="1.0" fill="none"/>
<circle cx="211.59" cy="321.88" r="2.8" stroke="#111" stroke-width="0.7" fill="none"/>
<text x="221.62" y="314.39" font-size="8.3">Class A</text>
<text x="221.62" y="325.17" font-size="8.3">Class B</text>
</g>
<g id="plot-d">
<path d="M420.00 536.60V383.73M424.95 536.60V376.38M429.90 536.60V314.65M434.85 536.60V332.29M439.80 536.60V310.24M444.75 536.60V376.38M449.69 536.60V460.17M454.64 536.60V483.68M459.59 536.60V510.14M464.54 536.60V524.84M469.49 536.60V526.31M474.44 536.60V535.13M479.39 536.60V533.66M588.27 536.60V535.13M598.16 536.60V530.72M603.11 536.60V505.73M608.06 536.60V491.03M613.01 536.60V458.70" stroke="#2e2e2e" stroke-width="0.92" fill="none"/>
<path d="M451.00 536.60V466.05M455.97 536.60V489.56M460.95 536.60V514.55M465.92 536.60V524.84M470.90 536.60V530.72M480.84 536.60V533.66M590.27 536.60V535.13M595.25 536.60V535.13M600.22 536.60V518.96M605.19 536.60V508.67M610.17 536.60V463.11M615.14 536.60V458.70M620.12 536.60V383.73M625.09 536.60V342.58M630.06 536.60V320.53M635.04 536.60V317.59M640.01 536.60V341.11M644.99 536.60V405.78" stroke="#2e2e2e" stroke-width="0.92" fill="none"/>
<path d="M417.30 383.73H422.70M420.00 381.03V386.43M418.09 381.82L421.91 385.64M418.09 385.64L421.91 381.82" stroke="#000" stroke-width="1.0" fill="none"/>
<path d="M422.25 376.38H427.65M424.95 373.68V379.08M423.04 374.47L426.86 378.29M423.04 378.29L426.86 374.47" stroke="#000" stroke-width="1.0" fill="none"/>
<path d="M427.20 314.65H432.60M429.90 311.95V317.35M427.99 312.74L431.81 316.56M427.99 316.56L431.81 312.74" stroke="#000" stroke-width="1.0" fill="none"/>
<path d="M432.15 332.29H437.55M434.85 329.59V334.99M432.94 330.38L436.76 334.20M432.94 334.20L436.76 330.38" stroke="#000" stroke-width="1.0" fill="none"/>
<path d="M437.10 310.24H442.50M439.80 307.54V312.94M437.89 308.33L441.71 312.15M437.89 312.15L441.71 308.33" stroke="#000" stroke-width="1.0" fill="none"/>
<path d="M442.05 376.38H447.44M444.75 373.68V379.08M442.84 374.47L446.65 378.29M442.84 378.29L446.65 374.47" stroke="#000" stroke-width="1.0" fill="none"/>
<path d="M446.99 460.17H452.39M449.69 457.47V462.87M447.78 458.26L451.60 462.08M447.78 462.08L451.60 458.26" stroke="#000" stroke-width="1.0" fill="none"/>
<path d="M451.94 483.68H457.34M454.64 480.98V486.38M452.73 481.78L456.55 485.59M452.73 485.59L456.55 481.78" stroke="#000" stroke-width="1.0" fill="none"/>
<path d="M456.89 510.14H462.29M459.59 507.44V512.84M457.68 508.23L461.50 512.05M457.68 512.05L461.50 508.23" stroke="#000" stroke-width="1.0" fill="none"/>
<path d="M461.84 524.84H467.24M464.54 522.14V527.54M462.63 522.93L466.45 526.75M462.63 526.75L466.45 522.93" stroke="#000" stroke-width="1.0" fill="none"/>
<path d="M466.79 526.31H472.19M469.49 523.61V529.01M467.58 524.40L471.40 528.22M467.58 528.22L471.40 524.40" stroke="#000" stroke-width="1.0" fill="none"/>
<path d="M471.74 535.13H477.14M474.44 532.43V537.83M472.53 533.22L476.35 537.04M472.53 537.04L476.35 533.22" stroke="#000" stroke-width="1.0" fill="none"/>
<path d="M476.69 533.66H482.09M479.39 530.96V536.36M477.48 531.75L481.30 535.57M477.48 535.57L481.30 531.75" stroke="#000" stroke-width="1.0" fill="none"/>
<path d="M481.64 536.60H487.04M484.34 533.90V539.30M482.43 534.69L486.25 538.51M482.43 538.51L486.25 534.69" stroke="#000" stroke-width="1.0" fill="none"/>
<path d="M486.59 536.60H491.99M489.29 533.90V539.30M487.38 534.69L491.20 538.51M487.38 538.51L491.20 534.69" stroke="#000" stroke-width="1.0" fill="none"/>
<path d="M491.54 536.60H496.94M494.24 533.90V539.30M492.33 534.69L496.14 538.51M492.33 538.51L496.14 534.69" stroke="#000" stroke-width="1.0" fill="none"/>
<path d="M496.48 536.60H501.88M499.18 533.90V539.30M497.27 534.69L501.09 538.51M497.27 538.51L501.09 534.69" stroke="#000" stroke-width="1.0" fill="none"/>
<path d="M501.43 536.60H506.83M504.13 533.90V539.30M502.22 534.69L506.04 538.51M502.22 538.51L506.04 534.69" stroke="#000" stroke-width="1.0" fill="none"/>
<path d="M506.38 536.60H511.78M509.08 533.90V539.30M507.17 534.69L510.99 538.51M507.17 538.51L510.99 534.69" stroke="#000" stroke-width="1.0" fill="none"/>
<path d="M511.33 536.60H516.73M514.03 533.90V539.30M512.12 534.69L515.94 538.51M512.12 538.51L515.94 534.69" stroke="#000" stroke-width="1.0" fill="none"/>
<path d="M516.28 536.60H521.68M518.98 533.90V539.30M517.07 534.69L520.89 538.51M517.07 538.51L520.89 534.69" stroke="#000" stroke-width="1.0" fill="none"/>
<path d="M521.23 536.60H526.63M523.93 533.90V539.30M522.02 534.69L525.84 538.51M522.02 538.51L525.84 534.69" stroke="#000" stroke-width="1.0" fill="none"/>
<path d="M526.18 536.60H531.58M528.88 533.90V539.30M526.97 534.69L530.79 538.51M526.97 538.51L530.79 534.69" stroke="#000" stroke-width="1.0" fill="none"/>
<path d="M531.13 536.60H536.53M533.83 533.90V539.30M531.92 534.69L535.74 538.51M531.92 538.51L535.74 534.69" stroke="#000" stroke-width="1.0" fill="none"/>
<path d="M536.08 536.60H541.48M538.78 533.90V539.30M536.87 534.69L540.69 538.51M536.87 538.51L540.69 534.69" stroke="#000" stroke-width="1.0" fill="none"/>
<path d="M541.02 536.60H546.43M543.73 533.90V539.30M541.82 534.69L545.63 538.51M541.82 538.51L545.63 534.69" stroke="#000" stroke-width="1.0" fill="none"/>
<path d="M545.97 536.60H551.37M548.67 533.90V539.30M546.76 534.69L550.58 538.51M546.76 538.51L550.58 534.69" stroke="#000" stroke-width="1.0" fill="none"/>
<path d="M550.92 536.60H556.32M553.62 533.90V539.30M551.71 534.69L555.53 538.51M551.71 538.51L555.53 534.69" stroke="#000" stroke-width="1.0" fill="none"/>
<path d="M555.87 536.60H561.27M558.57 533.90V539.30M556.66 534.69L560.48 538.51M556.66 538.51L560.48 534.69" stroke="#000" stroke-width="1.0" fill="none"/>
<path d="M560.82 536.60H566.22M563.52 533.90V539.30M561.61 534.69L565.43 538.51M561.61 538.51L565.43 534.69" stroke="#000" stroke-width="1.0" fill="none"/>
<path d="M565.77 536.60H571.17M568.47 533.90V539.30M566.56 534.69L570.38 538.51M566.56 538.51L570.38 534.69" stroke="#000" stroke-width="1.0" fill="none"/>
<path d="M570.72 536.60H576.12M573.42 533.90V539.30M571.51 534.69L575.33 538.51M571.51 538.51L575.33 534.69" stroke="#000" stroke-width="1.0" fill="none"/>
<path d="M575.67 536.60H581.07M578.37 533.90V539.30M576.46 534.69L580.28 538.51M576.46 538.51L580.28 534.69" stroke="#000" stroke-width="1.0" fill="none"/>
<path d="M580.62 536.60H586.02M583.32 533.90V539.30M581.41 534.69L585.23 538.51M581.41 538.51L585.23 534.69" stroke="#000" stroke-width="1.0" fill="none"/>
<path d="M585.57 535.13H590.97M588.27 532.43V537.83M586.36 533.22L590.18 537.04M586.36 537.04L590.18 533.22" stroke="#000" stroke-width="1.0" fill="none"/>
<path d="M590.51 536.60H595.92M593.22 533.90V539.30M591.31 534.69L595.12 538.51M591.31 538.51L595.12 534.69" stroke="#000" stroke-width="1.0" fill="none"/>
<path d="M595.46 530.72H600.86M598.16 528.02V533.42M596.25 528.81L600.07 532.63M596.25 532.63L600.07 528.81" stroke="#000" stroke-width="1.0" fill="none"/>
<path d="M600.41 505.73H605.81M603.11 503.03V508.43M601.20 503.82L605.02 507.64M601.20 507.64L605.02 503.82" stroke="#000" stroke-width="1.0" fill="none"/>
<path d="M605.36 491.03H610.76M608.06 488.33V493.73M606.15 489.12L609.97 492.94M606.15 492.94L609.97 489.12" stroke="#000" stroke-width="1.0" fill="none"/>
<path d="M610.31 458.70H615.71M613.01 456.00V461.40M611.10 456.79L614.92 460.61M611.10 460.61L614.92 456.79" stroke="#000" stroke-width="1.0" fill="none"/>
<circle cx="451.00" cy="466.05" r="2.7" stroke="#111" stroke-width="0.7" fill="none"/>
<circle cx="455.97" cy="489.56" r="2.7" stroke="#111" stroke-width="0.7" fill="none"/>
<circle cx="460.95" cy="514.55" r="2.7" stroke="#111" stroke-width="0.7" fill="none"/>
<circle cx="465.92" cy="524.84" r="2.7" stroke="#111" stroke-width="0.7" fill="none"/>
<circle cx="470.90" cy="530.72" r="2.7" stroke="#111" stroke-width="0.7" fill="none"/>
<circle cx="475.87" cy="536.60" r="2.7" stroke="#111" stroke-width="0.7" fill="none"/>
<circle cx="480.84" cy="533.66" r="2.7" stroke="#111" stroke-width="0.7" fill="none"/>
<circle cx="485.82" cy="536.60" r="2.7" stroke="#111" stroke-width="0.7" fill="none"/>
<circle cx="490.79" cy="536.60" r="2.7" stroke="#111" stroke-width="0.7" fill="none"/>
<circle cx="495.77" cy="536.60" r="2.7" stroke="#111" stroke-width="0.7" fill="none"/>
<circle cx="500.74" cy="536.60" r="2.7" stroke="#111" stroke-width="0.7" fill="none"/>
<circle cx="505.71" cy="536.60" r="2.7" stroke="#111" stroke-width="0.7" fill="none"/>
<circle cx="510.69" cy="536.60" r="2.7" stroke="#111" stroke-width="0.7" fill="none"/>
<circle cx="515.66" cy="536.60" r="2.7" stroke="#111" stroke-width="0.7" fill="none"/>
<circle cx="520.64" cy="536.60" r="2.7" stroke="#111" stroke-width="0.7" fill="none"/>
<circle cx="525.61" cy="536.60" r="2.7" stroke="#111" stroke-width="0.7" fill="none"/>
<circle cx="530.58" cy="536.60" r="2.7" stroke="#111" stroke-width="0.7" fill="none"/>
<circle cx="535.56" cy="536.60" r="2.7" stroke="#111" stroke-width="0.7" fill="none"/>
<circle cx="540.53" cy="536.60" r="2.7" stroke="#111" stroke-width="0.7" fill="none"/>
<circle cx="545.51" cy="536.60" r="2.7" stroke="#111" stroke-width="0.7" fill="none"/>
<circle cx="550.48" cy="536.60" r="2.7" stroke="#111" stroke-width="0.7" fill="none"/>
<circle cx="555.45" cy="536.60" r="2.7" stroke="#111" stroke-width="0.7" fill="none"/>
<circle cx="560.43" cy="536.60" r="2.7" stroke="#111" stroke-width="0.7" fill="none"/>
<circle cx="565.40" cy="536.60" r="2.7" stroke="#111" stroke-width="0.7" fill="none"/>
<circle cx="570.38" cy="536.60" r="2.7" stroke="#111" stroke-width="0.7" fill="none"/>
<circle cx="575.35" cy="536.60" r="2.7" stroke="#111" stroke-width="0.7" fill="none"/>
<circle cx="580.32" cy="536.60" r="2.7" stroke="#111" stroke-width="0.7" fill="none"/>
<circle cx="585.30" cy="536.60" r="2.7" stroke="#111" stroke-width="0.7" fill="none"/>
<circle cx="590.27" cy="535.13" r="2.7" stroke="#111" stroke-width="0.7" fill="none"/>
<circle cx="595.25" cy="535.13" r="2.7" stroke="#111" stroke-width="0.7" fill="none"/>
<circle cx="600.22" cy="518.96" r="2.7" stroke="#111" stroke-width="0.7" fill="none"/>
<circle cx="605.19" cy="508.67" r="2.7" stroke="#111" stroke-width="0.7" fill="none"/>
<circle cx="610.17" cy="463.11" r="2.7" stroke="#111" stroke-width="0.7" fill="none"/>
<circle cx="615.14" cy="458.70" r="2.7" stroke="#111" stroke-width="0.7" fill="none"/>
<circle cx="620.12" cy="383.73" r="2.7" stroke="#111" stroke-width="0.7" fill="none"/>
<circle cx="625.09" cy="342.58" r="2.7" stroke="#111" stroke-width="0.7" fill="none"/>
<circle cx="630.06" cy="320.53" r="2.7" stroke="#111" stroke-width="0.7" fill="none"/>
<circle cx="635.04" cy="317.59" r="2.7" stroke="#111" stroke-width="0.7" fill="none"/>
<circle cx="640.01" cy="341.11" r="2.7" stroke="#111" stroke-width="0.7" fill="none"/>
<circle cx="644.99" cy="405.78" r="2.7" stroke="#111" stroke-width="0.7" fill="none"/>
<rect x="381.44" y="301.42" width="298.01" height="235.18" fill="none" stroke="#1c1c1c" stroke-width="1"/>
<path d="M431.11 536.60v-3.4M431.11 301.42v3.4M480.78 536.60v-3.4M480.78 301.42v3.4M530.45 536.60v-3.4M530.45 301.42v3.4M580.11 536.60v-3.4M580.11 301.42v3.4M629.78 536.60v-3.4M629.78 301.42v3.4M381.44 507.20h3.4M679.45 507.20h-3.4M381.44 477.81h3.4M679.45 477.81h-3.4M381.44 448.41h3.4M679.45 448.41h-3.4M381.44 419.01h3.4M679.45 419.01h-3.4M381.44 389.61h3.4M679.45 389.61h-3.4M381.44 360.22h3.4M679.45 360.22h-3.4M381.44 330.82h3.4M679.45 330.82h-3.4" stroke="#1c1c1c" stroke-width="1" fill="none"/>
<g font-size="9.2" text-anchor="middle">
<text x="381.44" y="550.00">0</text>
<text x="431.11" y="550.00">5</text>
<text x="480.78" y="550.00">10</text>
<text x="530.45" y="550.00">15</text>
<text x="580.11" y="550.00">20</text>
<text x="629.78" y="550.00">25</text>
<text x="679.45" y="550.00">30</text>
</g>
<g font-size="9.2" text-anchor="end">
<text x="377.44" y="540.21">0</text>
<text x="377.44" y="510.81">20</text>
<text x="377.44" y="481.42">40</text>
<text x="377.44" y="452.02">60</text>
<text x="377.44" y="422.62">80</text>
<text x="377.44" y="393.22">100</text>
<text x="377.44" y="363.83">120</text>
<text x="377.44" y="334.43">140</text>
<text x="377.44" y="305.03">160</text>
</g>
<text x="530.45" y="563.4" font-size="10.1" text-anchor="middle">Histogram Bins</text>
<text transform="translate(355.65 419.51) rotate(-90)" font-size="10.0" text-anchor="middle">Counts</text>
<text x="526" y="590" class="cap" font-size="16.6" text-anchor="middle" font-family="'Liberation Serif', 'Times New Roman', serif">(d)</text>
<rect x="535.60" y="306.20" width="64.25" height="24.60" fill="#fff" stroke="#1c1c1c" stroke-width="0.8"/>
<path d="M538.62 313.33H557.12M538.62 324.16H557.12" stroke="#2e2e2e" stroke-width="0.92"/>
<path d="M555.32 313.33H560.52M557.92 310.73V315.93M556.09 311.50L559.76 315.17M556.09 315.17L559.76 311.50" stroke="#000" stroke-width="1.0" fill="none"/>
<circle cx="557.92" cy="324.16" r="2.8" stroke="#111" stroke-width="0.7" fill="none"/>
<text x="567.92" y="316.62" font-size="8.3">Class A</text>
<text x="567.92" y="327.45" font-size="8.3">Class B</text>
</g>
<g id="plot-e">
<path d="M69.40 815.30V679.67M74.00 815.30V644.41M78.59 815.30V607.79M83.19 815.30V599.66M87.78 815.30V652.55M92.38 815.30V695.95M96.97 815.30V756.98M101.56 815.30V780.04M106.16 815.30V800.38M110.75 815.30V805.81M115.35 815.30V808.52M124.54 815.30V812.59M225.63 815.30V813.94M230.22 815.30V812.59M234.82 815.30V793.60M239.41 815.30V789.53M244.01 815.30V743.42M248.60 815.30V723.07" stroke="#2e2e2e" stroke-width="0.92" fill="none"/>
<path d="M93.20 815.30V712.22M97.80 815.30V763.76M102.40 815.30V780.04M107.00 815.30V804.45M111.60 815.30V804.45M116.20 815.30V812.59M226.60 815.30V813.94M231.20 815.30V809.88M235.80 815.30V792.24M240.40 815.30V777.32M245.00 815.30V748.84M249.60 815.30V705.44M254.20 815.30V666.11M258.80 815.30V610.51M263.40 815.30V617.29M268.00 815.30V625.42M272.60 815.30V662.04" stroke="#2e2e2e" stroke-width="0.92" fill="none"/>
<path d="M66.70 679.67H72.10M69.40 676.97V682.38M67.49 677.77L71.31 681.58M67.49 681.58L71.31 677.77" stroke="#000" stroke-width="1.0" fill="none"/>
<path d="M71.30 644.41H76.70M74.00 641.71V647.11M72.09 642.50L75.90 646.32M72.09 646.32L75.90 642.50" stroke="#000" stroke-width="1.0" fill="none"/>
<path d="M75.89 607.79H81.29M78.59 605.09V610.49M76.68 605.88L80.50 609.70M76.68 609.70L80.50 605.88" stroke="#000" stroke-width="1.0" fill="none"/>
<path d="M80.48 599.66H85.89M83.19 596.96V602.36M81.28 597.75L85.09 601.57M81.28 601.57L85.09 597.75" stroke="#000" stroke-width="1.0" fill="none"/>
<path d="M85.08 652.55H90.48M87.78 649.85V655.25M85.87 650.64L89.69 654.46M85.87 654.46L89.69 650.64" stroke="#000" stroke-width="1.0" fill="none"/>
<path d="M89.67 695.95H95.08M92.38 693.25V698.65M90.47 694.04L94.28 697.86M90.47 697.86L94.28 694.04" stroke="#000" stroke-width="1.0" fill="none"/>
<path d="M94.27 756.98H99.67M96.97 754.28V759.68M95.06 755.07L98.88 758.89M95.06 758.89L98.88 755.07" stroke="#000" stroke-width="1.0" fill="none"/>
<path d="M98.86 780.04H104.27M101.56 777.34V782.74M99.66 778.13L103.47 781.95M99.66 781.95L103.47 778.13" stroke="#000" stroke-width="1.0" fill="none"/>
<path d="M103.46 800.38H108.86M106.16 797.68V803.08M104.25 798.47L108.07 802.29M104.25 802.29L108.07 798.47" stroke="#000" stroke-width="1.0" fill="none"/>
<path d="M108.05 805.81H113.45M110.75 803.11V808.51M108.85 803.90L112.66 807.72M108.85 807.72L112.66 803.90" stroke="#000" stroke-width="1.0" fill="none"/>
<path d="M112.65 808.52H118.05M115.35 805.82V811.22M113.44 806.61L117.26 810.43M113.44 810.43L117.26 806.61" stroke="#000" stroke-width="1.0" fill="none"/>
<path d="M117.24 815.30H122.64M119.94 812.60V818.00M118.04 813.39L121.85 817.21M118.04 817.21L121.85 813.39" stroke="#000" stroke-width="1.0" fill="none"/>
<path d="M121.84 812.59H127.24M124.54 809.89V815.29M122.63 810.68L126.45 814.50M122.63 814.50L126.45 810.68" stroke="#000" stroke-width="1.0" fill="none"/>
<path d="M126.43 815.30H131.83M129.13 812.60V818.00M127.23 813.39L131.04 817.21M127.23 817.21L131.04 813.39" stroke="#000" stroke-width="1.0" fill="none"/>
<path d="M131.03 815.30H136.43M133.73 812.60V818.00M131.82 813.39L135.64 817.21M131.82 817.21L135.64 813.39" stroke="#000" stroke-width="1.0" fill="none"/>
<path d="M135.62 815.30H141.02M138.32 812.60V818.00M136.42 813.39L140.23 817.21M136.42 817.21L140.23 813.39" stroke="#000" stroke-width="1.0" fill="none"/>
<path d="M140.22 815.30H145.62M142.92 812.60V818.00M141.01 813.39L144.83 817.21M141.01 817.21L144.83 813.39" stroke="#000" stroke-width="1.0" fill="none"/>
<path d="M144.81 815.30H150.21M147.51 812.60V818.00M145.61 813.39L149.42 817.21M145.61 817.21L149.42 813.39" stroke="#000" stroke-width="1.0" fill="none"/>
<path d="M149.41 815.30H154.81M152.11 812.60V818.00M150.20 813.39L154.02 817.21M150.20 817.21L154.02 813.39" stroke="#000" stroke-width="1.0" fill="none"/>
<path d="M154.00 815.30H159.40M156.70 812.60V818.00M154.80 813.39L158.61 817.21M154.80 817.21L158.61 813.39" stroke="#000" stroke-width="1.0" fill="none"/>
<path d="M158.60 815.30H164.00M161.30 812.60V818.00M159.39 813.39L163.21 817.21M159.39 817.21L163.21 813.39" stroke="#000" stroke-width="1.0" fill="none"/>
<path d="M163.19 815.30H168.59M165.89 812.60V818.00M163.99 813.39L167.80 817.21M163.99 817.21L167.80 813.39" stroke="#000" stroke-width="1.0" fill="none"/>
<path d="M167.79 815.30H173.19M170.49 812.60V818.00M168.58 813.39L172.40 817.21M168.58 817.21L172.40 813.39" stroke="#000" stroke-width="1.0" fill="none"/>
<path d="M172.38 815.30H177.78M175.08 812.60V818.00M173.18 813.39L176.99 817.21M173.18 817.21L176.99 813.39" stroke="#000" stroke-width="1.0" fill="none"/>
<path d="M176.98 815.30H182.38M179.68 812.60V818.00M177.77 813.39L181.59 817.21M177.77 817.21L181.59 813.39" stroke="#000" stroke-width="1.0" fill="none"/>
<path d="M181.58 815.30H186.97M184.28 812.60V818.00M182.37 813.39L186.18 817.21M182.37 817.21L186.18 813.39" stroke="#000" stroke-width="1.0" fill="none"/>
<path d="M186.17 815.30H191.57M188.87 812.60V818.00M186.96 813.39L190.78 817.21M186.96 817.21L190.78 813.39" stroke="#000" stroke-width="1.0" fill="none"/>
<path d="M190.77 815.30H196.16M193.47 812.60V818.00M191.56 813.39L195.37 817.21M191.56 817.21L195.37 813.39" stroke="#000" stroke-width="1.0" fill="none"/>
<path d="M195.36 815.30H200.76M198.06 812.60V818.00M196.15 813.39L199.97 817.21M196.15 817.21L199.97 813.39" stroke="#000" stroke-width="1.0" fill="none"/>
<path d="M199.96 815.30H205.35M202.66 812.60V818.00M200.75 813.39L204.56 817.21M200.75 817.21L204.56 813.39" stroke="#000" stroke-width="1.0" fill="none"/>
<path d="M204.55 815.30H209.95M207.25 812.60V818.00M205.34 813.39L209.16 817.21M205.34 817.21L209.16 813.39" stroke="#000" stroke-width="1.0" fill="none"/>
<path d="M209.15 815.30H214.54M211.84 812.60V818.00M209.94 813.39L213.75 817.21M209.94 817.21L213.75 813.39" stroke="#000" stroke-width="1.0" fill="none"/>
<path d="M213.74 815.30H219.14M216.44 812.60V818.00M214.53 813.39L218.35 817.21M214.53 817.21L218.35 813.39" stroke="#000" stroke-width="1.0" fill="none"/>
<path d="M218.34 815.30H223.73M221.03 812.60V818.00M219.13 813.39L222.94 817.21M219.13 817.21L222.94 813.39" stroke="#000" stroke-width="1.0" fill="none"/>
<path d="M222.93 813.94H228.33M225.63 811.24V816.64M223.72 812.03L227.54 815.85M223.72 815.85L227.54 812.03" stroke="#000" stroke-width="1.0" fill="none"/>
<path d="M227.53 812.59H232.92M230.22 809.89V815.29M228.32 810.68L232.13 814.50M228.32 814.50L232.13 810.68" stroke="#000" stroke-width="1.0" fill="none"/>
<path d="M232.12 793.60H237.52M234.82 790.90V796.30M232.91 791.69L236.73 795.51M232.91 795.51L236.73 791.69" stroke="#000" stroke-width="1.0" fill="none"/>
<path d="M236.72 789.53H242.11M239.41 786.83V792.23M237.51 787.62L241.32 791.44M237.51 791.44L241.32 787.62" stroke="#000" stroke-width="1.0" fill="none"/>
<path d="M241.31 743.42H246.71M244.01 740.72V746.12M242.10 741.51L245.92 745.33M242.10 745.33L245.92 741.51" stroke="#000" stroke-width="1.0" fill="none"/>
<path d="M245.91 723.07H251.30M248.60 720.37V725.77M246.70 721.17L250.51 724.98M246.70 724.98L250.51 721.17" stroke="#000" stroke-width="1.0" fill="none"/>
<circle cx="93.20" cy="712.22" r="2.7" stroke="#111" stroke-width="0.7" fill="none"/>
<circle cx="97.80" cy="763.76" r="2.7" stroke="#111" stroke-width="0.7" fill="none"/>
<circle cx="102.40" cy="780.04" r="2.7" stroke="#111" stroke-width="0.7" fill="none"/>
<circle cx="107.00" cy="804.45" r="2.7" stroke="#111" stroke-width="0.7" fill="none"/>
<circle cx="111.60" cy="804.45" r="2.7" stroke="#111" stroke-width="0.7" fill="none"/>
<circle cx="116.20" cy="812.59" r="2.7" stroke="#111" stroke-width="0.7" fill="none"/>
<circle cx="120.80" cy="815.30" r="2.7" stroke="#111" stroke-width="0.7" fill="none"/>
<circle cx="125.40" cy="815.30" r="2.7" stroke="#111" stroke-width="0.7" fill="none"/>
<circle cx="130.00" cy="815.30" r="2.7" stroke="#111" stroke-width="0.7" fill="none"/>
<circle cx="134.60" cy="815.30" r="2.7" stroke="#111" stroke-width="0.7" fill="none"/>
<circle cx="139.20" cy="815.30" r="2.7" stroke="#111" stroke-width="0.7" fill="none"/>
<circle cx="143.80" cy="815.30" r="2.7" stroke="#111" stroke-width="0.7" fill="none"/>
<circle cx="148.40" cy="815.30" r="2.7" stroke="#111" stroke-width="0.7" fill="none"/>
<circle cx="153.00" cy="815.30" r="2.7" stroke="#111" stroke-width="0.7" fill="none"/>
<circle cx="157.60" cy="815.30" r="2.7" stroke="#111" stroke-width="0.7" fill="none"/>
<circle cx="162.20" cy="815.30" r="2.7" stroke="#111" stroke-width="0.7" fill="none"/>
<circle cx="166.80" cy="815.30" r="2.7" stroke="#111" stroke-width="0.7" fill="none"/>
<circle cx="171.40" cy="815.30" r="2.7" stroke="#111" stroke-width="0.7" fill="none"/>
<circle cx="176.00" cy="815.30" r="2.7" stroke="#111" stroke-width="0.7" fill="none"/>
<circle cx="180.60" cy="815.30" r="2.7" stroke="#111" stroke-width="0.7" fill="none"/>
<circle cx="185.20" cy="815.30" r="2.7" stroke="#111" stroke-width="0.7" fill="none"/>
<circle cx="189.80" cy="815.30" r="2.7" stroke="#111" stroke-width="0.7" fill="none"/>
<circle cx="194.40" cy="815.30" r="2.7" stroke="#111" stroke-width="0.7" fill="none"/>
<circle cx="199.00" cy="815.30" r="2.7" stroke="#111" stroke-width="0.7" fill="none"/>
<circle cx="203.60" cy="815.30" r="2.7" stroke="#111" stroke-width="0.7" fill="none"/>
<circle cx="208.20" cy="815.30" r="2.7" stroke="#111" stroke-width="0.7" fill="none"/>
<circle cx="212.80" cy="815.30" r="2.7" stroke="#111" stroke-width="0.7" fill="none"/>
<circle cx="217.40" cy="815.30" r="2.7" stroke="#111" stroke-width="0.7" fill="none"/>
<circle cx="222.00" cy="815.30" r="2.7" stroke="#111" stroke-width="0.7" fill="none"/>
<circle cx="226.60" cy="813.94" r="2.7" stroke="#111" stroke-width="0.7" fill="none"/>
<circle cx="231.20" cy="809.88" r="2.7" stroke="#111" stroke-width="0.7" fill="none"/>
<circle cx="235.80" cy="792.24" r="2.7" stroke="#111" stroke-width="0.7" fill="none"/>
<circle cx="240.40" cy="777.32" r="2.7" stroke="#111" stroke-width="0.7" fill="none"/>
<circle cx="245.00" cy="748.84" r="2.7" stroke="#111" stroke-width="0.7" fill="none"/>
<circle cx="249.60" cy="705.44" r="2.7" stroke="#111" stroke-width="0.7" fill="none"/>
<circle cx="254.20" cy="666.11" r="2.7" stroke="#111" stroke-width="0.7" fill="none"/>
<circle cx="258.80" cy="610.51" r="2.7" stroke="#111" stroke-width="0.7" fill="none"/>
<circle cx="263.40" cy="617.29" r="2.7" stroke="#111" stroke-width="0.7" fill="none"/>
<circle cx="268.00" cy="625.42" r="2.7" stroke="#111" stroke-width="0.7" fill="none"/>
<circle cx="272.60" cy="662.04" r="2.7" stroke="#111" stroke-width="0.7" fill="none"/>
<rect x="31.55" y="598.30" width="275.77" height="217.00" fill="none" stroke="#1c1c1c" stroke-width="1"/>
<path d="M77.51 815.30v-3.4M77.51 598.30v3.4M123.47 815.30v-3.4M123.47 598.30v3.4M169.44 815.30v-3.4M169.44 598.30v3.4M215.40 815.30v-3.4M215.40 598.30v3.4M261.36 815.30v-3.4M261.36 598.30v3.4M31.55 788.17h3.4M307.32 788.17h-3.4M31.55 761.05h3.4M307.32 761.05h-3.4M31.55 733.92h3.4M307.32 733.92h-3.4M31.55 706.80h3.4M307.32 706.80h-3.4M31.55 679.67h3.4M307.32 679.67h-3.4M31.55 652.55h3.4M307.32 652.55h-3.4M31.55 625.42h3.4M307.32 625.42h-3.4" stroke="#1c1c1c" stroke-width="1" fill="none"/>
<g font-size="8.5" text-anchor="middle">
<text x="31.55" y="828.30">0</text>
<text x="77.51" y="828.30">5</text>
<text x="123.47" y="828.30">10</text>
<text x="169.44" y="828.30">15</text>
<text x="215.40" y="828.30">20</text>
<text x="261.36" y="828.30">25</text>
<text x="307.32" y="828.30">30</text>
</g>
<g font-size="8.5" text-anchor="end">
<text x="27.55" y="819.16">0</text>
<text x="27.55" y="792.03">20</text>
<text x="27.55" y="764.91">40</text>
<text x="27.55" y="737.78">60</text>
<text x="27.55" y="710.66">80</text>
<text x="27.55" y="683.53">100</text>
<text x="27.55" y="656.41">120</text>
<text x="27.55" y="629.28">140</text>
<text x="27.55" y="602.16">160</text>
</g>
<text x="169.44" y="840.5" font-size="9.25" text-anchor="middle">Histogram Bins</text>
<text transform="translate(8.70 707.65) rotate(-90)" font-size="9.25" text-anchor="middle">Counts</text>
<text x="161.5" y="866.6" class="cap" font-size="16.2" text-anchor="middle" font-family="'Liberation Serif', 'Times New Roman', serif">(e)</text>
<rect x="242.60" y="633.40" width="59.40" height="23.00" fill="#fff" stroke="#1c1c1c" stroke-width="0.8"/>
<path d="M245.39 640.07H262.50M245.39 650.19H262.50" stroke="#2e2e2e" stroke-width="0.92"/>
<path d="M260.70 640.07H265.90M263.30 637.47V642.67M261.46 638.23L265.14 641.91M261.46 641.91L265.14 638.23" stroke="#000" stroke-width="1.0" fill="none"/>
<circle cx="263.30" cy="650.19" r="2.8" stroke="#111" stroke-width="0.7" fill="none"/>
<text x="272.48" y="643.11" font-size="7.6">Class A</text>
<text x="272.48" y="653.23" font-size="7.6">Class B</text>
</g>
<g id="plot-f">
<path d="M417.60 816.18V664.42M422.12 816.18V602.85M426.65 816.18V608.58M431.17 816.18V605.72M435.69 816.18V650.10M440.22 816.18V723.12M444.74 816.18V760.34M449.26 816.18V781.82M453.78 816.18V806.16M458.31 816.18V804.73M462.83 816.18V813.32M467.35 816.18V813.32M566.86 816.18V814.75M575.90 816.18V810.45M580.43 816.18V791.84M584.95 816.18V774.66M589.47 816.18V741.73M594.00 816.18V691.62" stroke="#2e2e2e" stroke-width="0.92" fill="none"/>
<path d="M438.60 816.18V678.73M443.13 816.18V756.05M447.66 816.18V777.52M452.18 816.18V801.86M456.71 816.18V804.73M461.24 816.18V809.02M470.30 816.18V813.32M569.91 816.18V814.75M574.44 816.18V813.32M578.97 816.18V796.14M583.50 816.18V788.98M588.02 816.18V744.59M592.55 816.18V730.28M597.08 816.18V658.69M601.61 816.18V617.17M606.14 816.18V620.03M610.66 816.18V602.85M615.19 816.18V631.49" stroke="#2e2e2e" stroke-width="0.92" fill="none"/>
<path d="M414.90 664.42H420.30M417.60 661.72V667.12M415.69 662.51L419.51 666.33M415.69 666.33L419.51 662.51" stroke="#000" stroke-width="1.0" fill="none"/>
<path d="M419.42 602.85H424.82M422.12 600.15V605.55M420.21 600.94L424.03 604.76M420.21 604.76L424.03 600.94" stroke="#000" stroke-width="1.0" fill="none"/>
<path d="M423.95 608.58H429.35M426.65 605.88V611.28M424.74 606.67L428.56 610.49M424.74 610.49L428.56 606.67" stroke="#000" stroke-width="1.0" fill="none"/>
<path d="M428.47 605.72H433.87M431.17 603.02V608.42M429.26 603.81L433.08 607.62M429.26 607.62L433.08 603.81" stroke="#000" stroke-width="1.0" fill="none"/>
<path d="M432.99 650.10H438.39M435.69 647.40V652.80M433.78 648.19L437.60 652.01M433.78 652.01L437.60 648.19" stroke="#000" stroke-width="1.0" fill="none"/>
<path d="M437.52 723.12H442.92M440.22 720.42V725.82M438.31 721.21L442.12 725.03M438.31 725.03L442.12 721.21" stroke="#000" stroke-width="1.0" fill="none"/>
<path d="M442.04 760.34H447.44M444.74 757.64V763.04M442.83 758.43L446.65 762.25M442.83 762.25L446.65 758.43" stroke="#000" stroke-width="1.0" fill="none"/>
<path d="M446.56 781.82H451.96M449.26 779.12V784.52M447.35 779.91L451.17 783.73M447.35 783.73L451.17 779.91" stroke="#000" stroke-width="1.0" fill="none"/>
<path d="M451.08 806.16H456.48M453.78 803.46V808.86M451.87 804.25L455.69 808.07M451.87 808.07L455.69 804.25" stroke="#000" stroke-width="1.0" fill="none"/>
<path d="M455.61 804.73H461.01M458.31 802.03V807.43M456.40 802.82L460.22 806.64M456.40 806.64L460.22 802.82" stroke="#000" stroke-width="1.0" fill="none"/>
<path d="M460.13 813.32H465.53M462.83 810.62V816.02M460.92 811.41L464.74 815.23M460.92 815.23L464.74 811.41" stroke="#000" stroke-width="1.0" fill="none"/>
<path d="M464.65 813.32H470.05M467.35 810.62V816.02M465.44 811.41L469.26 815.23M465.44 815.23L469.26 811.41" stroke="#000" stroke-width="1.0" fill="none"/>
<path d="M469.18 816.18H474.58M471.88 813.48V818.88M469.97 814.27L473.79 818.09M469.97 818.09L473.79 814.27" stroke="#000" stroke-width="1.0" fill="none"/>
<path d="M473.70 816.18H479.10M476.40 813.48V818.88M474.49 814.27L478.31 818.09M474.49 818.09L478.31 814.27" stroke="#000" stroke-width="1.0" fill="none"/>
<path d="M478.22 816.18H483.62M480.92 813.48V818.88M479.01 814.27L482.83 818.09M479.01 818.09L482.83 814.27" stroke="#000" stroke-width="1.0" fill="none"/>
<path d="M482.75 816.18H488.15M485.45 813.48V818.88M483.54 814.27L487.35 818.09M483.54 818.09L487.35 814.27" stroke="#000" stroke-width="1.0" fill="none"/>
<path d="M487.27 816.18H492.67M489.97 813.48V818.88M488.06 814.27L491.88 818.09M488.06 818.09L491.88 814.27" stroke="#000" stroke-width="1.0" fill="none"/>
<path d="M491.79 816.18H497.19M494.49 813.48V818.88M492.58 814.27L496.40 818.09M492.58 818.09L496.40 814.27" stroke="#000" stroke-width="1.0" fill="none"/>
<path d="M496.31 816.18H501.71M499.01 813.48V818.88M497.10 814.27L500.92 818.09M497.10 818.09L500.92 814.27" stroke="#000" stroke-width="1.0" fill="none"/>
<path d="M500.84 816.18H506.24M503.54 813.48V818.88M501.63 814.27L505.45 818.09M501.63 818.09L505.45 814.27" stroke="#000" stroke-width="1.0" fill="none"/>
<path d="M505.36 816.18H510.76M508.06 813.48V818.88M506.15 814.27L509.97 818.09M506.15 818.09L509.97 814.27" stroke="#000" stroke-width="1.0" fill="none"/>
<path d="M509.88 816.18H515.28M512.58 813.48V818.88M510.67 814.27L514.49 818.09M510.67 818.09L514.49 814.27" stroke="#000" stroke-width="1.0" fill="none"/>
<path d="M514.41 816.18H519.81M517.11 813.48V818.88M515.20 814.27L519.02 818.09M515.20 818.09L519.02 814.27" stroke="#000" stroke-width="1.0" fill="none"/>
<path d="M518.93 816.18H524.33M521.63 813.48V818.88M519.72 814.27L523.54 818.09M519.72 818.09L523.54 814.27" stroke="#000" stroke-width="1.0" fill="none"/>
<path d="M523.45 816.18H528.85M526.15 813.48V818.88M524.24 814.27L528.06 818.09M524.24 818.09L528.06 814.27" stroke="#000" stroke-width="1.0" fill="none"/>
<path d="M527.97 816.18H533.38M530.67 813.48V818.88M528.77 814.27L532.58 818.09M528.77 818.09L532.58 814.27" stroke="#000" stroke-width="1.0" fill="none"/>
<path d="M532.50 816.18H537.90M535.20 813.48V818.88M533.29 814.27L537.11 818.09M533.29 818.09L537.11 814.27" stroke="#000" stroke-width="1.0" fill="none"/>
<path d="M537.02 816.18H542.42M539.72 813.48V818.88M537.81 814.27L541.63 818.09M537.81 818.09L541.63 814.27" stroke="#000" stroke-width="1.0" fill="none"/>
<path d="M541.54 816.18H546.94M544.24 813.48V818.88M542.33 814.27L546.15 818.09M542.33 818.09L546.15 814.27" stroke="#000" stroke-width="1.0" fill="none"/>
<path d="M546.07 816.18H551.47M548.77 813.48V818.88M546.86 814.27L550.68 818.09M546.86 818.09L550.68 814.27" stroke="#000" stroke-width="1.0" fill="none"/>
<path d="M550.59 816.18H555.99M553.29 813.48V818.88M551.38 814.27L555.20 818.09M551.38 818.09L555.20 814.27" stroke="#000" stroke-width="1.0" fill="none"/>
<path d="M555.11 816.18H560.51M557.81 813.48V818.88M555.90 814.27L559.72 818.09M555.90 818.09L559.72 814.27" stroke="#000" stroke-width="1.0" fill="none"/>
<path d="M559.64 816.18H565.04M562.34 813.48V818.88M560.43 814.27L564.25 818.09M560.43 818.09L564.25 814.27" stroke="#000" stroke-width="1.0" fill="none"/>
<path d="M564.16 814.75H569.56M566.86 812.05V817.45M564.95 812.84L568.77 816.66M564.95 816.66L568.77 812.84" stroke="#000" stroke-width="1.0" fill="none"/>
<path d="M568.68 816.18H574.08M571.38 813.48V818.88M569.47 814.27L573.29 818.09M569.47 818.09L573.29 814.27" stroke="#000" stroke-width="1.0" fill="none"/>
<path d="M573.20 810.45H578.61M575.90 807.75V813.15M574.00 808.54L577.81 812.36M574.00 812.36L577.81 808.54" stroke="#000" stroke-width="1.0" fill="none"/>
<path d="M577.73 791.84H583.13M580.43 789.14V794.54M578.52 789.93L582.34 793.75M578.52 793.75L582.34 789.93" stroke="#000" stroke-width="1.0" fill="none"/>
<path d="M582.25 774.66H587.65M584.95 771.96V777.36M583.04 772.75L586.86 776.57M583.04 776.57L586.86 772.75" stroke="#000" stroke-width="1.0" fill="none"/>
<path d="M586.77 741.73H592.17M589.47 739.03V744.43M587.56 739.82L591.38 743.64M587.56 743.64L591.38 739.82" stroke="#000" stroke-width="1.0" fill="none"/>
<path d="M591.30 691.62H596.70M594.00 688.92V694.32M592.09 689.71L595.91 693.53M592.09 693.53L595.91 689.71" stroke="#000" stroke-width="1.0" fill="none"/>
<circle cx="438.60" cy="678.73" r="2.7" stroke="#111" stroke-width="0.7" fill="none"/>
<circle cx="443.13" cy="756.05" r="2.7" stroke="#111" stroke-width="0.7" fill="none"/>
<circle cx="447.66" cy="777.52" r="2.7" stroke="#111" stroke-width="0.7" fill="none"/>
<circle cx="452.18" cy="801.86" r="2.7" stroke="#111" stroke-width="0.7" fill="none"/>
<circle cx="456.71" cy="804.73" r="2.7" stroke="#111" stroke-width="0.7" fill="none"/>
<circle cx="461.24" cy="809.02" r="2.7" stroke="#111" stroke-width="0.7" fill="none"/>
<circle cx="465.77" cy="816.18" r="2.7" stroke="#111" stroke-width="0.7" fill="none"/>
<circle cx="470.30" cy="813.32" r="2.7" stroke="#111" stroke-width="0.7" fill="none"/>
<circle cx="474.82" cy="816.18" r="2.7" stroke="#111" stroke-width="0.7" fill="none"/>
<circle cx="479.35" cy="816.18" r="2.7" stroke="#111" stroke-width="0.7" fill="none"/>
<circle cx="483.88" cy="816.18" r="2.7" stroke="#111" stroke-width="0.7" fill="none"/>
<circle cx="488.41" cy="816.18" r="2.7" stroke="#111" stroke-width="0.7" fill="none"/>
<circle cx="492.94" cy="816.18" r="2.7" stroke="#111" stroke-width="0.7" fill="none"/>
<circle cx="497.46" cy="816.18" r="2.7" stroke="#111" stroke-width="0.7" fill="none"/>
<circle cx="501.99" cy="816.18" r="2.7" stroke="#111" stroke-width="0.7" fill="none"/>
<circle cx="506.52" cy="816.18" r="2.7" stroke="#111" stroke-width="0.7" fill="none"/>
<circle cx="511.05" cy="816.18" r="2.7" stroke="#111" stroke-width="0.7" fill="none"/>
<circle cx="515.58" cy="816.18" r="2.7" stroke="#111" stroke-width="0.7" fill="none"/>
<circle cx="520.10" cy="816.18" r="2.7" stroke="#111" stroke-width="0.7" fill="none"/>
<circle cx="524.63" cy="816.18" r="2.7" stroke="#111" stroke-width="0.7" fill="none"/>
<circle cx="529.16" cy="816.18" r="2.7" stroke="#111" stroke-width="0.7" fill="none"/>
<circle cx="533.69" cy="816.18" r="2.7" stroke="#111" stroke-width="0.7" fill="none"/>
<circle cx="538.22" cy="816.18" r="2.7" stroke="#111" stroke-width="0.7" fill="none"/>
<circle cx="542.74" cy="816.18" r="2.7" stroke="#111" stroke-width="0.7" fill="none"/>
<circle cx="547.27" cy="816.18" r="2.7" stroke="#111" stroke-width="0.7" fill="none"/>
<circle cx="551.80" cy="816.18" r="2.7" stroke="#111" stroke-width="0.7" fill="none"/>
<circle cx="556.33" cy="816.18" r="2.7" stroke="#111" stroke-width="0.7" fill="none"/>
<circle cx="560.86" cy="816.18" r="2.7" stroke="#111" stroke-width="0.7" fill="none"/>
<circle cx="565.38" cy="816.18" r="2.7" stroke="#111" stroke-width="0.7" fill="none"/>
<circle cx="569.91" cy="814.75" r="2.7" stroke="#111" stroke-width="0.7" fill="none"/>
<circle cx="574.44" cy="813.32" r="2.7" stroke="#111" stroke-width="0.7" fill="none"/>
<circle cx="578.97" cy="796.14" r="2.7" stroke="#111" stroke-width="0.7" fill="none"/>
<circle cx="583.50" cy="788.98" r="2.7" stroke="#111" stroke-width="0.7" fill="none"/>
<circle cx="588.02" cy="744.59" r="2.7" stroke="#111" stroke-width="0.7" fill="none"/>
<circle cx="592.55" cy="730.28" r="2.7" stroke="#111" stroke-width="0.7" fill="none"/>
<circle cx="597.08" cy="658.69" r="2.7" stroke="#111" stroke-width="0.7" fill="none"/>
<circle cx="601.61" cy="617.17" r="2.7" stroke="#111" stroke-width="0.7" fill="none"/>
<circle cx="606.14" cy="620.03" r="2.7" stroke="#111" stroke-width="0.7" fill="none"/>
<circle cx="610.66" cy="602.85" r="2.7" stroke="#111" stroke-width="0.7" fill="none"/>
<circle cx="615.19" cy="631.49" r="2.7" stroke="#111" stroke-width="0.7" fill="none"/>
<rect x="378.68" y="601.42" width="272.17" height="214.76" fill="none" stroke="#1c1c1c" stroke-width="1"/>
<path d="M424.04 816.18v-3.4M424.04 601.42v3.4M469.40 816.18v-3.4M469.40 601.42v3.4M514.76 816.18v-3.4M514.76 601.42v3.4M560.13 816.18v-3.4M560.13 601.42v3.4M605.49 816.18v-3.4M605.49 601.42v3.4M378.68 744.59h3.4M650.85 744.59h-3.4M378.68 673.01h3.4M650.85 673.01h-3.4" stroke="#1c1c1c" stroke-width="1" fill="none"/>
<g font-size="8.3" text-anchor="middle">
<text x="378.68" y="828.58">0</text>
<text x="424.04" y="828.58">5</text>
<text x="469.40" y="828.58">10</text>
<text x="514.76" y="828.58">15</text>
<text x="560.13" y="828.58">20</text>
<text x="605.49" y="828.58">25</text>
<text x="650.85" y="828.58">30</text>
</g>
<g font-size="8.3" text-anchor="end">
<text x="374.68" y="819.97">0</text>
<text x="374.68" y="748.38">50</text>
<text x="374.68" y="676.79">100</text>
<text x="374.68" y="605.21">150</text>
</g>
<text x="514.76" y="840.6" font-size="9.19" text-anchor="middle">Histogram Bins</text>
<text transform="translate(355.30 709.30) rotate(-90)" font-size="9.0" text-anchor="middle">Counts</text>
<text x="512.3" y="866.9" class="cap" font-size="16.2" text-anchor="middle" font-family="'Liberation Serif', 'Times New Roman', serif">(f)</text>
<rect x="587.40" y="697.40" width="58.30" height="23.20" fill="#fff" stroke="#1c1c1c" stroke-width="0.8"/>
<path d="M590.14 704.13H606.93M590.14 714.34H606.93" stroke="#2e2e2e" stroke-width="0.92"/>
<path d="M605.13 704.13H610.33M607.73 701.53V706.73M605.89 702.29L609.57 705.97M605.89 705.97L609.57 702.29" stroke="#000" stroke-width="1.0" fill="none"/>
<circle cx="607.73" cy="714.34" r="2.8" stroke="#111" stroke-width="0.7" fill="none"/>
<text x="616.72" y="707.22" font-size="7.75">Class A</text>
<text x="616.72" y="717.43" font-size="7.75">Class B</text>
</g>
</svg>
</body></html>
